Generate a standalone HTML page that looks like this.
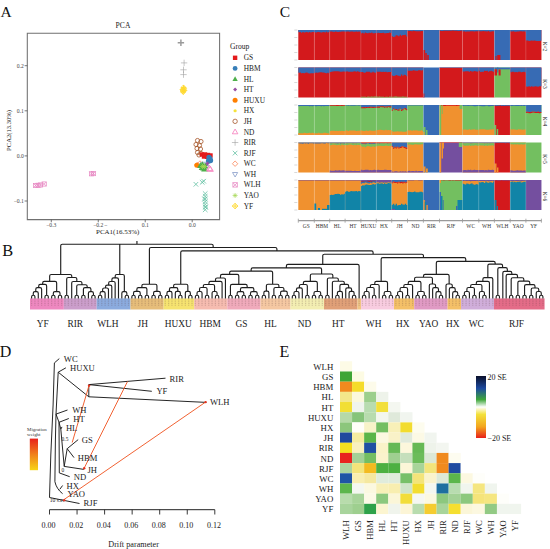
<!DOCTYPE html><html><head><meta charset="utf-8"><style>html,body{margin:0;padding:0;background:#fff;}svg{display:block;font-family:"Liberation Serif", serif;}</style></head><body><svg width="550" height="549" viewBox="0 0 550 549"><text x="0.5" y="16.6" font-size="15.5" fill="#111">A</text>
<text x="123" y="28" font-size="7.6" text-anchor="middle" fill="#222">PCA</text>
<path d="M27.3 33.3 H219.6 V219.6 H27.3 Z" fill="none" stroke="#707070" stroke-width="1.05"/>
<line x1="24.6" x2="27.3" y1="65.7" y2="65.7" stroke="#555" stroke-width="0.8"/>
<text x="23.8" y="67.6" font-size="5.6" text-anchor="end" fill="#444">0.2</text>
<line x1="24.6" x2="27.3" y1="110.8" y2="110.8" stroke="#555" stroke-width="0.8"/>
<text x="23.8" y="112.7" font-size="5.6" text-anchor="end" fill="#444">0.1</text>
<line x1="24.6" x2="27.3" y1="155.9" y2="155.9" stroke="#555" stroke-width="0.8"/>
<text x="23.8" y="157.8" font-size="5.6" text-anchor="end" fill="#444">0.0</text>
<line x1="24.6" x2="27.3" y1="201" y2="201" stroke="#555" stroke-width="0.8"/>
<text x="23.8" y="202.9" font-size="5.6" text-anchor="end" fill="#444">−0.1</text>
<line x1="51.29" x2="51.29" y1="219.6" y2="222.3" stroke="#555" stroke-width="0.8"/>
<text x="51.29" y="227.4" font-size="5.6" text-anchor="middle" fill="#444">−0.3</text>
<line x1="98.26" x2="98.26" y1="219.6" y2="222.3" stroke="#555" stroke-width="0.8"/>
<text x="98.26" y="227.4" font-size="5.6" text-anchor="middle" fill="#444">−0.2</text>
<line x1="145.23" x2="145.23" y1="219.6" y2="222.3" stroke="#555" stroke-width="0.8"/>
<text x="145.23" y="227.4" font-size="5.6" text-anchor="middle" fill="#444">0.1</text>
<line x1="192.2" x2="192.2" y1="219.6" y2="222.3" stroke="#555" stroke-width="0.8"/>
<text x="192.2" y="227.4" font-size="5.6" text-anchor="middle" fill="#444">0.0</text>
<text x="96" y="234" font-size="7" fill="#222">PCA1(16.53%)</text>
<text x="104.6" y="227.2" font-size="5.2" fill="#444">–</text>
<text transform="translate(10.6 130.5) rotate(-90)" font-size="6.6" text-anchor="middle" fill="#222">PCA2(13.30%)</text>
<text x="230" y="48.8" font-size="7.6" fill="#222">Group</text>
<text x="243.7" y="60.4" font-size="7.4" fill="#222">GS</text>
<rect x="232.9" y="55.6" width="4.4" height="4.4" fill="#e41a1c"/>
<text x="243.7" y="70.99" font-size="7.4" fill="#222">HBM</text>
<circle cx="235.1" cy="68.39" r="2.4" fill="#377eb8"/>
<text x="243.7" y="81.58" font-size="7.4" fill="#222">HL</text>
<path d="M235.1 76.18 L237.76 80.94 L232.44 80.94 Z" fill="#4daf4a"/>
<text x="243.7" y="92.17" font-size="7.4" fill="#222">HT</text>
<path d="M235.1 87.57 L237.1 89.57 L235.1 91.57 L233.1 89.57 Z" fill="#984ea3"/>
<text x="243.7" y="102.76" font-size="7.4" fill="#222">HUXU</text>
<circle cx="235.1" cy="100.16" r="2.5" fill="#ff7f00"/>
<text x="243.7" y="113.35" font-size="7.4" fill="#222">HX</text>
<circle cx="235.1" cy="110.75" r="1.6" fill="#f5e23a"/>
<text x="243.7" y="123.94" font-size="7.4" fill="#222">JH</text>
<circle cx="235.1" cy="121.34" r="2.2" fill="none" stroke="#a65628" stroke-width="0.8"/>
<text x="243.7" y="134.53" font-size="7.4" fill="#222">ND</text>
<path d="M235.1 129.03 L237.85 133.81 L232.34 133.81 Z" fill="none" stroke="#f781bf" stroke-width="0.85"/>
<text x="243.7" y="145.12" font-size="7.4" fill="#222">RIR</text>
<path d="M231.9 142.52 H238.3 M235.1 139.32 V145.72" stroke="#a0a0a0" stroke-width="0.6"/>
<text x="243.7" y="155.71" font-size="7.4" fill="#222">RJF</text>
<path d="M232.8 150.81 L237.4 155.41 M232.8 155.41 L237.4 150.81" stroke="#66c2a5" stroke-width="0.8"/>
<text x="243.7" y="166.3" font-size="7.4" fill="#222">WC</text>
<path d="M235.1 161 L237.8 163.7 L235.1 166.4 L232.4 163.7 Z" fill="none" stroke="#fc8d62" stroke-width="0.85"/>
<text x="243.7" y="176.89" font-size="7.4" fill="#222">WH</text>
<path d="M235.1 176.99 L237.66 172.53 L232.53 172.53 Z" fill="none" stroke="#8da0cb" stroke-width="0.85"/>
<text x="243.7" y="187.48" font-size="7.4" fill="#222">WLH</text>
<g stroke="#e78ac3" stroke-width="0.75" fill="none"><rect x="232.9" y="182.68" width="4.4" height="4.4"/><path d="M232.9 182.68 L237.3 187.08 M232.9 187.08 L237.3 182.68"/></g>
<text x="243.7" y="198.07" font-size="7.4" fill="#222">YAO</text>
<path d="M232.6 195.47 H237.6 M235.1 192.97 V197.97 M233.35 193.72 L236.85 197.22 M233.35 197.22 L236.85 193.72" stroke="#a6d854" stroke-width="0.7"/>
<text x="243.7" y="208.66" font-size="7.4" fill="#222">YF</text>
<g stroke="#ffd92f" stroke-width="0.85" fill="none"><path d="M235.1 203.26 L237.9 206.06 L235.1 208.86 L232.3 206.06 Z M232.3 206.06 H237.9 M235.1 203.26 V208.86"/></g>
<path d="M177.7 42.8 H184.1 M180.9 39.6 V46" stroke="#9a9a9a" stroke-width="1.45"/>
<path d="M180.9 62.9 H187.3 M184.1 59.7 V66.1" stroke="#a0a0a0" stroke-width="0.6"/>
<path d="M180.3 69.8 H186.7 M183.5 66.6 V73" stroke="#a0a0a0" stroke-width="0.6"/>
<path d="M180.3 74.6 H186.7 M183.5 71.4 V77.8" stroke="#a0a0a0" stroke-width="0.6"/>
<g stroke="#ffd92f" stroke-width="0.85" fill="none"><path d="M183.5 84.98 L186.02 87.5 L183.5 90.02 L180.98 87.5 Z M180.98 87.5 H186.02 M183.5 84.98 V90.02"/></g>
<g stroke="#ffd92f" stroke-width="0.85" fill="none"><path d="M182.6 86.98 L185.12 89.5 L182.6 92.02 L180.08 89.5 Z M180.08 89.5 H185.12 M182.6 86.98 V92.02"/></g>
<g stroke="#ffd92f" stroke-width="0.85" fill="none"><path d="M184.3 87.98 L186.82 90.5 L184.3 93.02 L181.78 90.5 Z M181.78 90.5 H186.82 M184.3 87.98 V93.02"/></g>
<g stroke="#ffd92f" stroke-width="0.85" fill="none"><path d="M183.2 89.48 L185.72 92 L183.2 94.52 L180.68 92 Z M180.68 92 H185.72 M183.2 89.48 V94.52"/></g>
<g stroke="#ffd92f" stroke-width="0.85" fill="none"><path d="M184 86.28 L186.52 88.8 L184 91.32 L181.48 88.8 Z M181.48 88.8 H186.52 M184 86.28 V91.32"/></g>
<g stroke="#ffd92f" stroke-width="0.85" fill="none"><path d="M182.8 88.48 L185.32 91 L182.8 93.52 L180.28 91 Z M180.28 91 H185.32 M182.8 88.48 V93.52"/></g>
<g stroke="#e78ac3" stroke-width="0.75" fill="none"><rect x="33.41" y="183.41" width="4.18" height="4.18"/><path d="M33.41 183.41 L37.59 187.59 M33.41 187.59 L37.59 183.41"/></g>
<g stroke="#e78ac3" stroke-width="0.75" fill="none"><rect x="35.91" y="183.21" width="4.18" height="4.18"/><path d="M35.91 183.21 L40.09 187.39 M35.91 187.39 L40.09 183.21"/></g>
<g stroke="#e78ac3" stroke-width="0.75" fill="none"><rect x="38.41" y="182.91" width="4.18" height="4.18"/><path d="M38.41 182.91 L42.59 187.09 M38.41 187.09 L42.59 182.91"/></g>
<g stroke="#e78ac3" stroke-width="0.75" fill="none"><rect x="42.11" y="181.91" width="4.18" height="4.18"/><path d="M42.11 181.91 L46.29 186.09 M42.11 186.09 L46.29 181.91"/></g>
<g stroke="#e78ac3" stroke-width="0.75" fill="none"><rect x="89.41" y="171.71" width="4.18" height="4.18"/><path d="M89.41 171.71 L93.59 175.89 M89.41 175.89 L93.59 171.71"/></g>
<g stroke="#e78ac3" stroke-width="0.75" fill="none"><rect x="91.41" y="171.51" width="4.18" height="4.18"/><path d="M91.41 171.51 L95.59 175.69 M91.41 175.69 L95.59 171.51"/></g>
<circle cx="197.5" cy="140.5" r="2.09" fill="none" stroke="#a65628" stroke-width="0.8"/>
<circle cx="201" cy="141.5" r="2.09" fill="none" stroke="#a65628" stroke-width="0.8"/>
<circle cx="196" cy="144.5" r="2.09" fill="none" stroke="#a65628" stroke-width="0.8"/>
<circle cx="199.5" cy="145.5" r="2.09" fill="none" stroke="#a65628" stroke-width="0.8"/>
<circle cx="197" cy="148.5" r="2.09" fill="none" stroke="#a65628" stroke-width="0.8"/>
<circle cx="200.5" cy="149" r="2.09" fill="none" stroke="#a65628" stroke-width="0.8"/>
<circle cx="197.5" cy="152.5" r="2.09" fill="none" stroke="#a65628" stroke-width="0.8"/>
<circle cx="201" cy="153.5" r="2.09" fill="none" stroke="#a65628" stroke-width="0.8"/>
<circle cx="199" cy="155" r="2.09" fill="none" stroke="#a65628" stroke-width="0.8"/>
<rect x="199.8" y="152.3" width="4.4" height="4.4" fill="#e41a1c"/>
<rect x="202.8" y="152.3" width="4.4" height="4.4" fill="#e41a1c"/>
<rect x="205.8" y="152.8" width="4.4" height="4.4" fill="#e41a1c"/>
<rect x="208.3" y="153.3" width="4.4" height="4.4" fill="#e41a1c"/>
<rect x="201.8" y="154.3" width="4.4" height="4.4" fill="#e41a1c"/>
<rect x="204.8" y="154.6" width="4.4" height="4.4" fill="#e41a1c"/>
<circle cx="209" cy="157.5" r="2.64" fill="#377eb8"/>
<circle cx="210" cy="159" r="2.64" fill="#377eb8"/>
<circle cx="208.5" cy="161" r="2.64" fill="#377eb8"/>
<circle cx="210.5" cy="160.5" r="2.64" fill="#377eb8"/>
<path d="M197.5 162.1 L200.2 164.8 L197.5 167.5 L194.8 164.8 Z" fill="none" stroke="#fc8d62" stroke-width="0.85"/>
<path d="M200 160.8 L202.7 163.5 L200 166.2 L197.3 163.5 Z" fill="none" stroke="#fc8d62" stroke-width="0.85"/>
<path d="M203 165.3 L205.7 168 L203 170.7 L200.3 168 Z" fill="none" stroke="#fc8d62" stroke-width="0.85"/>
<circle cx="196.8" cy="165.2" r="2.5" fill="#ff7f00"/>
<path d="M204 166.7 L206.56 162.25 L201.44 162.25 Z" fill="none" stroke="#8da0cb" stroke-width="0.85"/>
<path d="M206.5 169.7 L209.06 165.25 L203.94 165.25 Z" fill="none" stroke="#8da0cb" stroke-width="0.85"/>
<path d="M207.5 161.5 L209.5 163.5 L207.5 165.5 L205.5 163.5 Z" fill="#984ea3"/>
<path d="M206 163 L208 165 L206 167 L204 165 Z" fill="#984ea3"/>
<path d="M200.5 162 L203.82 167.95 L197.18 167.95 Z" fill="#4daf4a"/>
<path d="M203.5 164.5 L206.82 170.45 L200.18 170.45 Z" fill="#4daf4a"/>
<path d="M202 164 L205.32 169.95 L198.68 169.95 Z" fill="#4daf4a"/>
<path d="M205 162.5 L208.32 168.45 L201.68 168.45 Z" fill="#4daf4a"/>
<path d="M202.5 161.3 L205.82 167.25 L199.18 167.25 Z" fill="#4daf4a"/>
<path d="M204.5 165.5 L207.82 171.45 L201.18 171.45 Z" fill="#4daf4a"/>
<path d="M200 166.5 H205 M202.5 164 V169 M200.75 164.75 L204.25 168.25 M200.75 168.25 L204.25 164.75" stroke="#a6d854" stroke-width="0.7"/>
<path d="M202 166.5 H207 M204.5 164 V169 M202.75 164.75 L206.25 168.25 M202.75 168.25 L206.25 164.75" stroke="#a6d854" stroke-width="0.7"/>
<path d="M210.3 166.11 L213.33 171.37 L207.27 171.37 Z" fill="none" stroke="#f781bf" stroke-width="0.85"/>
<path d="M209.5 165.31 L212.53 170.57 L206.47 170.57 Z" fill="none" stroke="#f781bf" stroke-width="0.85"/>
<path d="M193.6 182 L198.2 186.6 M193.6 186.6 L198.2 182" stroke="#66c2a5" stroke-width="0.8"/>
<path d="M201.4 178.9 L206 183.5 M201.4 183.5 L206 178.9" stroke="#66c2a5" stroke-width="0.8"/>
<path d="M199.9 180 L204.5 184.6 M199.9 184.6 L204.5 180" stroke="#66c2a5" stroke-width="0.8"/>
<path d="M202.9 191.3 L207.5 195.9 M202.9 195.9 L207.5 191.3" stroke="#66c2a5" stroke-width="0.8"/>
<path d="M202.9 194 L207.5 198.6 M202.9 198.6 L207.5 194" stroke="#66c2a5" stroke-width="0.8"/>
<path d="M202.9 196.7 L207.5 201.3 M202.9 201.3 L207.5 196.7" stroke="#66c2a5" stroke-width="0.8"/>
<path d="M202.9 199.4 L207.5 204 M202.9 204 L207.5 199.4" stroke="#66c2a5" stroke-width="0.8"/>
<path d="M202.9 202.1 L207.5 206.7 M202.9 206.7 L207.5 202.1" stroke="#66c2a5" stroke-width="0.8"/>
<path d="M202.9 204.8 L207.5 209.4 M202.9 209.4 L207.5 204.8" stroke="#66c2a5" stroke-width="0.8"/>
<path d="M202.9 207.5 L207.5 212.1 M202.9 212.1 L207.5 207.5" stroke="#66c2a5" stroke-width="0.8"/>
<path d="M202.2 196.7 L206.8 201.3 M202.2 201.3 L206.8 196.7" stroke="#66c2a5" stroke-width="0.8"/>
<path d="M203.5 204.7 L208.1 209.3 M203.5 209.3 L208.1 204.7" stroke="#66c2a5" stroke-width="0.8"/>
<text x="279.8" y="17.1" font-size="15.5" fill="#111">C</text>
<line x1="294.3" x2="297.3" y1="30" y2="30" stroke="#c8c8c8" stroke-width="0.7"/>
<line x1="294.3" x2="297.3" y1="37.5" y2="37.5" stroke="#c8c8c8" stroke-width="0.7"/>
<line x1="294.3" x2="297.3" y1="45" y2="45" stroke="#c8c8c8" stroke-width="0.7"/>
<line x1="294.3" x2="297.3" y1="52.5" y2="52.5" stroke="#c8c8c8" stroke-width="0.7"/>
<line x1="294.3" x2="297.3" y1="60" y2="60" stroke="#c8c8c8" stroke-width="0.7"/>
<rect x="298.3" y="30" width="16.05" height="30" fill="#d3191c"/>
<path d="M298.3 30H299.63V30H300.97V30H302.3V30H303.63V30H304.97V30H306.3V30H307.63V30H308.97V30H310.3V30H311.63V30H312.97V30H314.3V32.01H312.97V31.98H311.63V32.42H310.3V31.94H308.97V32.51H307.63V31.97H306.3V32.34H304.97V32.54H303.63V31.99H302.3V32.68H300.97V32.08H299.63V32.29H298.3Z" fill="#376bb4"/>
<rect x="314.3" y="30" width="15.45" height="30" fill="#d3191c"/>
<path d="M314.3 30H315.58V30H316.87V30H318.15V30H319.43V30H320.72V30H322V30H323.28V30H324.57V30H325.85V30H327.13V30H328.42V30H329.7V32.03H328.42V32.49H327.13V31.84H325.85V32.58H324.57V32.12H323.28V32.26H322V32.56H320.72V32.3H319.43V31.98H318.15V31.9H316.87V32.46H315.58V32.14H314.3Z" fill="#376bb4"/>
<rect x="329.7" y="30" width="15.45" height="30" fill="#d3191c"/>
<path d="M329.7 30H330.98V30H332.27V30H333.55V30H334.83V30H336.12V30H337.4V30H338.68V30H339.97V30H341.25V30H342.53V30H343.82V30H345.1V31.56H343.82V31.45H342.53V31.45H341.25V31.84H339.97V31.7H338.68V31.91H337.4V31.87H336.12V31.54H334.83V32.05H333.55V31.65H332.27V31.49H330.98V31.52H329.7Z" fill="#376bb4"/>
<rect x="345.1" y="30" width="15.85" height="30" fill="#d3191c"/>
<path d="M345.1 30H346.42V30H347.73V30H349.05V30H350.37V30H351.68V30H353V30H354.32V30H355.63V30H356.95V30H358.27V30H359.58V30H360.9V31.83H359.58V31.62H358.27V31.64H356.95V31.45H355.63V31.72H354.32V31.78H353V31.48H351.68V31.57H350.37V31.65H349.05V31.49H347.73V31.56H346.42V31.71H345.1Z" fill="#376bb4"/>
<rect x="360.9" y="30" width="15.45" height="30" fill="#d3191c"/>
<path d="M360.9 30H362.18V30H363.47V30H364.75V30H366.03V30H367.32V30H368.6V30H369.88V30H371.17V30H372.45V30H373.73V30H375.02V30H376.3V33.07H375.02V33.26H373.73V33.17H372.45V32.54H371.17V32.99H369.88V32.65H368.6V33.26H367.32V32.92H366.03V32.62H364.75V33.48H363.47V32.79H362.18V33.23H360.9Z" fill="#376bb4"/>
<rect x="376.3" y="30" width="15.45" height="30" fill="#d3191c"/>
<path d="M376.3 30H377.58V30H378.87V30H380.15V30H381.43V30H382.72V30H384V30H385.28V30H386.57V30H387.85V30H389.13V30H390.42V30H391.7V33.06H390.42V32.55H389.13V33.03H387.85V32.88H386.57V33.26H385.28V33.17H384V32.86H382.72V32.96H381.43V32.98H380.15V33.06H378.87V32.75H377.58V33.2H376.3Z" fill="#376bb4"/>
<rect x="391.7" y="30" width="15.85" height="30" fill="#d3191c"/>
<path d="M391.7 30H393.02V30H394.33V30H395.65V30H396.97V30H398.28V30H399.6V30H400.92V30H402.23V30H403.55V30H404.87V30H406.18V30H407.5V36.44H406.18V34.74H404.87V34.88H403.55V35H402.23V35.71H400.92V34.65H399.6V36.2H398.28V35.53H396.97V35.28H395.65V36.57H394.33V36.98H393.02V36.15H391.7Z" fill="#376bb4"/>
<rect x="407.5" y="30" width="15.95" height="30" fill="#d3191c"/>
<path d="M407.5 30H408.82V30H410.15V30H411.48V30H412.8V30H414.12V30H415.45V30H416.77V30H418.1V30H419.42V30H420.75V30H422.07V30H423.4V31.05H422.07V30.97H420.75V31.32H419.42V31.29H418.1V31.33H416.77V31.13H415.45V31.07H414.12V30.85H412.8V31.32H411.48V31.03H410.15V30.95H408.82V30.88H407.5Z" fill="#376bb4"/>
<rect x="423.4" y="30" width="16.15" height="30" fill="#376bb4"/>
<rect x="423.4" y="50" width="1.8" height="10" fill="#d3191c"/>
<rect x="425.2" y="53" width="1.6" height="7" fill="#d3191c"/>
<rect x="427.2" y="55" width="1.6" height="5" fill="#d3191c"/>
<rect x="439.5" y="30" width="23.05" height="30" fill="#d3191c"/>
<path d="M439.5 30H440.78V30H442.06V30H443.33V30H444.61V30H445.89V30H447.17V30H448.44V30H449.72V30H451V30H452.28V30H453.56V30H454.83V30H456.11V30H457.39V30H458.67V30H459.94V30H461.22V30H462.5V30.85H461.22V30.81H459.94V30.88H458.67V30.98H457.39V30.83H456.11V30.75H454.83V30.77H453.56V30.6H452.28V30.71H451V30.84H449.72V30.79H448.44V30.69H447.17V30.69H445.89V30.67H444.61V30.66H443.33V30.98H442.06V30.95H440.78V30.74H439.5Z" fill="#376bb4"/>
<rect x="462.5" y="30" width="16.35" height="30" fill="#d3191c"/>
<path d="M462.5 30H463.75V30H465.01V30H466.26V30H467.52V30H468.77V30H470.02V30H471.28V30H472.53V30H473.78V30H475.04V30H476.29V30H477.55V30H478.8V31.23H477.55V31.14H476.29V31.14H475.04V31.48H473.78V31.16H472.53V31.34H471.28V31.34H470.02V31.58H468.77V31.62H467.52V31.57H466.26V31.64H465.01V31.13H463.75V31.51H462.5Z" fill="#376bb4"/>
<rect x="478.8" y="30" width="15.65" height="30" fill="#d3191c"/>
<path d="M478.8 30H480.1V30H481.4V30H482.7V30H484V30H485.3V30H486.6V30H487.9V30H489.2V30H490.5V30H491.8V30H493.1V30H494.4V31.3H493.1V31.22H491.8V31.59H490.5V31.8H489.2V31.12H487.9V31.39H486.6V31.18H485.3V31.22H484V31.1H482.7V31.14H481.4V31.37H480.1V31.23H478.8Z" fill="#376bb4"/>
<rect x="494.4" y="30" width="15.85" height="30" fill="#376bb4"/>
<rect x="495.4" y="56" width="1.2" height="4" fill="#d3191c"/>
<rect x="497.2" y="55" width="3.2" height="5" fill="#d3191c"/>
<rect x="510.2" y="30" width="15.75" height="30" fill="#d3191c"/>
<path d="M510.2 30H511.51V30H512.82V30H514.12V30H515.43V30H516.74V30H518.05V30H519.36V30H520.67V30H521.98V30H523.28V30H524.59V30H525.9V31.7H524.59V31.36H523.28V31.41H521.98V31.26H520.67V31.25H519.36V31.49H518.05V31.48H516.74V31.8H515.43V31.71H514.12V31.27H512.82V31.42H511.51V31.41H510.2Z" fill="#376bb4"/>
<rect x="525.9" y="30" width="15.55" height="30" fill="#d3191c"/>
<path d="M525.9 30H527.19V30H528.48V30H529.77V30H531.07V30H532.36V30H533.65V30H534.94V30H536.23V30H537.52V30H538.82V30H540.11V30H541.4V40.66H540.11V40.92H538.82V41.02H537.52V41.09H536.23V40.82H534.94V40.52H533.65V40.83H532.36V40.59H531.07V40.82H529.77V41.07H528.48V40.51H527.19V40.6H525.9Z" fill="#376bb4"/>
<line x1="314.3" x2="314.3" y1="30" y2="60" stroke="#ffffff" stroke-opacity="0.25" stroke-width="0.6"/>
<line x1="329.7" x2="329.7" y1="30" y2="60" stroke="#ffffff" stroke-opacity="0.25" stroke-width="0.6"/>
<line x1="345.1" x2="345.1" y1="30" y2="60" stroke="#ffffff" stroke-opacity="0.25" stroke-width="0.6"/>
<line x1="360.9" x2="360.9" y1="30" y2="60" stroke="#ffffff" stroke-opacity="0.25" stroke-width="0.6"/>
<line x1="376.3" x2="376.3" y1="30" y2="60" stroke="#ffffff" stroke-opacity="0.25" stroke-width="0.6"/>
<line x1="391.7" x2="391.7" y1="30" y2="60" stroke="#ffffff" stroke-opacity="0.25" stroke-width="0.6"/>
<line x1="407.5" x2="407.5" y1="30" y2="60" stroke="#ffffff" stroke-opacity="0.25" stroke-width="0.6"/>
<line x1="423.4" x2="423.4" y1="30" y2="60" stroke="#ffffff" stroke-opacity="0.25" stroke-width="0.6"/>
<line x1="439.5" x2="439.5" y1="30" y2="60" stroke="#ffffff" stroke-opacity="0.25" stroke-width="0.6"/>
<line x1="462.5" x2="462.5" y1="30" y2="60" stroke="#ffffff" stroke-opacity="0.25" stroke-width="0.6"/>
<line x1="478.8" x2="478.8" y1="30" y2="60" stroke="#ffffff" stroke-opacity="0.25" stroke-width="0.6"/>
<line x1="494.4" x2="494.4" y1="30" y2="60" stroke="#ffffff" stroke-opacity="0.25" stroke-width="0.6"/>
<line x1="510.2" x2="510.2" y1="30" y2="60" stroke="#ffffff" stroke-opacity="0.25" stroke-width="0.6"/>
<line x1="525.9" x2="525.9" y1="30" y2="60" stroke="#ffffff" stroke-opacity="0.25" stroke-width="0.6"/>
<text transform="translate(543.3 46.5) rotate(90)" font-size="5.4" text-anchor="middle" fill="#222">K=2</text>
<line x1="294.3" x2="297.3" y1="67.5" y2="67.5" stroke="#c8c8c8" stroke-width="0.7"/>
<line x1="294.3" x2="297.3" y1="75" y2="75" stroke="#c8c8c8" stroke-width="0.7"/>
<line x1="294.3" x2="297.3" y1="82.5" y2="82.5" stroke="#c8c8c8" stroke-width="0.7"/>
<line x1="294.3" x2="297.3" y1="90" y2="90" stroke="#c8c8c8" stroke-width="0.7"/>
<line x1="294.3" x2="297.3" y1="97.5" y2="97.5" stroke="#c8c8c8" stroke-width="0.7"/>
<rect x="298.3" y="67.5" width="16.05" height="30" fill="#d3191c"/>
<path d="M298.3 67.5H299.63V67.5H300.97V67.5H302.3V67.5H303.63V67.5H304.97V67.5H306.3V67.5H307.63V67.5H308.97V67.5H310.3V67.5H311.63V67.5H312.97V67.5H314.3V73.22H312.97V73.21H311.63V73.25H310.3V73.38H308.97V73.21H307.63V72.62H306.3V72.73H304.97V73.18H303.63V72.93H302.3V73.17H300.97V72.57H299.63V72.77H298.3Z" fill="#376bb4"/>
<rect x="314.3" y="67.5" width="15.45" height="30" fill="#d3191c"/>
<path d="M314.3 67.5H315.58V67.5H316.87V67.5H318.15V67.5H319.43V67.5H320.72V67.5H322V67.5H323.28V67.5H324.57V67.5H325.85V67.5H327.13V67.5H328.42V67.5H329.7V73.14H328.42V72.65H327.13V73.16H325.85V72.89H324.57V72.46H323.28V72.48H322V72.23H320.72V72.23H319.43V72.56H318.15V72.72H316.87V72.43H315.58V72.94H314.3Z" fill="#376bb4"/>
<rect x="329.7" y="67.5" width="15.45" height="30" fill="#d3191c"/>
<path d="M329.7 67.5H330.98V67.5H332.27V67.5H333.55V67.5H334.83V67.5H336.12V67.5H337.4V67.5H338.68V67.5H339.97V67.5H341.25V67.5H342.53V67.5H343.82V67.5H345.1V71.62H343.82V71.48H342.53V71.77H341.25V71.82H339.97V71.6H338.68V71.26H337.4V71.26H336.12V71.28H334.83V71.28H333.55V71.39H332.27V71.86H330.98V71.89H329.7Z" fill="#376bb4"/>
<rect x="345.1" y="67.5" width="15.85" height="30" fill="#d3191c"/>
<path d="M345.1 67.5H346.42V67.5H347.73V67.5H349.05V67.5H350.37V67.5H351.68V67.5H353V67.5H354.32V67.5H355.63V67.5H356.95V67.5H358.27V67.5H359.58V67.5H360.9V71.88H359.58V71.74H358.27V71.37H356.95V71.73H355.63V71.24H354.32V71.48H353V71.7H351.68V71.73H350.37V71.83H349.05V71.63H347.73V71.17H346.42V71.74H345.1Z" fill="#376bb4"/>
<rect x="360.9" y="67.5" width="15.45" height="30" fill="#d3191c"/>
<path d="M360.9 67.5H362.18V67.5H363.47V67.5H364.75V67.5H366.03V67.5H367.32V67.5H368.6V67.5H369.88V67.5H371.17V67.5H372.45V67.5H373.73V67.5H375.02V67.5H376.3V72.68H375.02V72.53H373.73V71.85H372.45V72.51H371.17V72.6H369.88V71.85H368.6V71.83H367.32V71.87H366.03V72.42H364.75V72.65H363.47V72.1H362.18V72.1H360.9Z" fill="#376bb4"/>
<path d="M360.9 96.64H362.18V96.76H363.47V96.68H364.75V96.85H366.03V96.89H367.32V96.51H368.6V96.64H369.88V96.69H371.17V96.53H372.45V96.73H373.73V96.55H375.02V96.57H376.3V97.5H375.02V97.5H373.73V97.5H372.45V97.5H371.17V97.5H369.88V97.5H368.6V97.5H367.32V97.5H366.03V97.5H364.75V97.5H363.47V97.5H362.18V97.5H360.9Z" fill="#73bf60"/>
<rect x="376.3" y="67.5" width="15.45" height="30" fill="#d3191c"/>
<path d="M376.3 67.5H377.58V67.5H378.87V67.5H380.15V67.5H381.43V67.5H382.72V67.5H384V67.5H385.28V67.5H386.57V67.5H387.85V67.5H389.13V67.5H390.42V67.5H391.7V72.07H390.42V71.97H389.13V71.88H387.85V72.33H386.57V71.7H385.28V71.94H384V71.81H382.72V72.07H381.43V71.79H380.15V71.83H378.87V71.8H377.58V71.77H376.3Z" fill="#376bb4"/>
<path d="M376.3 96.54H377.58V96.73H378.87V96.53H380.15V96.7H381.43V96.69H382.72V96.69H384V96.89H385.28V96.72H386.57V96.83H387.85V96.9H389.13V96.58H390.42V96.83H391.7V97.5H390.42V97.5H389.13V97.5H387.85V97.5H386.57V97.5H385.28V97.5H384V97.5H382.72V97.5H381.43V97.5H380.15V97.5H378.87V97.5H377.58V97.5H376.3Z" fill="#73bf60"/>
<rect x="391.7" y="67.5" width="15.85" height="30" fill="#d3191c"/>
<path d="M391.7 67.5H393.02V67.5H394.33V67.5H395.65V67.5H396.97V67.5H398.28V67.5H399.6V67.5H400.92V67.5H402.23V67.5H403.55V67.5H404.87V67.5H406.18V67.5H407.5V76.21H406.18V74.92H404.87V74.85H403.55V75.66H402.23V74.48H400.92V76.24H399.6V75.64H398.28V75.55H396.97V75.05H395.65V75.65H394.33V76.09H393.02V75.43H391.7Z" fill="#376bb4"/>
<path d="M391.7 96.7H393.02V96.66H394.33V96.54H395.65V96.45H396.97V96.73H398.28V96.63H399.6V96.7H400.92V96.69H402.23V96.58H403.55V96.73H404.87V96.68H406.18V96.71H407.5V97.5H406.18V97.5H404.87V97.5H403.55V97.5H402.23V97.5H400.92V97.5H399.6V97.5H398.28V97.5H396.97V97.5H395.65V97.5H394.33V97.5H393.02V97.5H391.7Z" fill="#73bf60"/>
<rect x="407.5" y="67.5" width="15.95" height="30" fill="#d3191c"/>
<path d="M407.5 67.5H408.82V67.5H410.15V67.5H411.48V67.5H412.8V67.5H414.12V67.5H415.45V67.5H416.77V67.5H418.1V67.5H419.42V67.5H420.75V67.5H422.07V67.5H423.4V70.16H422.07V70.45H420.75V70.2H419.42V70.21H418.1V70.77H416.77V70.85H415.45V70.55H414.12V70.31H412.8V70.85H411.48V70.8H410.15V70.66H408.82V70.85H407.5Z" fill="#376bb4"/>
<rect x="423.4" y="67.5" width="16.15" height="30" fill="#376bb4"/>
<rect x="423.4" y="93.5" width="1" height="4" fill="#d3191c"/>
<rect x="439.5" y="67.5" width="23.05" height="30" fill="#d3191c"/>
<path d="M439.5 67.5H440.78V67.5H442.06V67.5H443.33V67.5H444.61V67.5H445.89V67.5H447.17V67.5H448.44V67.5H449.72V67.5H451V67.5H452.28V67.5H453.56V67.5H454.83V67.5H456.11V67.5H457.39V67.5H458.67V67.5H459.94V67.5H461.22V67.5H462.5V67.93H461.22V68.07H459.94V68.1H458.67V68H457.39V67.98H456.11V68.09H454.83V67.94H453.56V68.09H452.28V68.08H451V67.93H449.72V68.03H448.44V68.04H447.17V67.93H445.89V68.08H444.61V68.06H443.33V68.03H442.06V67.91H440.78V67.95H439.5Z" fill="#376bb4"/>
<rect x="462.5" y="67.5" width="16.35" height="30" fill="#d3191c"/>
<path d="M462.5 67.5H463.75V67.5H465.01V67.5H466.26V67.5H467.52V67.5H468.77V67.5H470.02V67.5H471.28V67.5H472.53V67.5H473.78V67.5H475.04V67.5H476.29V67.5H477.55V67.5H478.8V71.51H477.55V71.6H476.29V71.37H475.04V71.11H473.78V71.45H472.53V71.54H471.28V71.12H470.02V71.68H468.77V71.35H467.52V71.26H466.26V71.37H465.01V71.51H463.75V71.45H462.5Z" fill="#376bb4"/>
<rect x="478.8" y="67.5" width="15.65" height="30" fill="#d3191c"/>
<path d="M478.8 67.5H480.1V67.5H481.4V67.5H482.7V67.5H484V67.5H485.3V67.5H486.6V67.5H487.9V67.5H489.2V67.5H490.5V67.5H491.8V67.5H493.1V67.5H494.4V71.79H493.1V71.21H491.8V70.86H490.5V71.02H489.2V71.63H487.9V70.75H486.6V71.02H485.3V70.83H484V71.87H482.7V71.65H481.4V71.88H480.1V70.78H478.8Z" fill="#376bb4"/>
<rect x="494.4" y="67.5" width="15.85" height="30" fill="#73bf60"/>
<rect x="494.4" y="67.5" width="15.8" height="1.8" fill="#376bb4"/>
<rect x="494.4" y="69.3" width="2.6" height="6.2" fill="#d3191c"/>
<rect x="497.2" y="67.5" width="1" height="5" fill="#376bb4"/>
<rect x="498.6" y="69.5" width="2" height="6" fill="#d3191c"/>
<rect x="510.2" y="67.5" width="15.75" height="30" fill="#d3191c"/>
<path d="M510.2 67.5H511.51V67.5H512.82V67.5H514.12V67.5H515.43V67.5H516.74V67.5H518.05V67.5H519.36V67.5H520.67V67.5H521.98V67.5H523.28V67.5H524.59V67.5H525.9V72.35H524.59V71.66H523.28V71.94H521.98V72.15H520.67V71.65H519.36V71.67H518.05V72.16H516.74V72.06H515.43V72.34H514.12V71.72H512.82V71.81H511.51V72.26H510.2Z" fill="#376bb4"/>
<rect x="525.9" y="67.5" width="15.55" height="30" fill="#d3191c"/>
<path d="M525.9 67.5H527.19V67.5H528.48V67.5H529.77V67.5H531.07V67.5H532.36V67.5H533.65V67.5H534.94V67.5H536.23V67.5H537.52V67.5H538.82V67.5H540.11V67.5H541.4V86.2H540.11V86.31H538.82V86.84H537.52V86.54H536.23V86.37H534.94V86.46H533.65V86.79H532.36V86.15H531.07V86.78H529.77V86.17H528.48V86.74H527.19V86.61H525.9Z" fill="#376bb4"/>
<line x1="314.3" x2="314.3" y1="67.5" y2="97.5" stroke="#ffffff" stroke-opacity="0.25" stroke-width="0.6"/>
<line x1="329.7" x2="329.7" y1="67.5" y2="97.5" stroke="#ffffff" stroke-opacity="0.25" stroke-width="0.6"/>
<line x1="345.1" x2="345.1" y1="67.5" y2="97.5" stroke="#ffffff" stroke-opacity="0.25" stroke-width="0.6"/>
<line x1="360.9" x2="360.9" y1="67.5" y2="97.5" stroke="#ffffff" stroke-opacity="0.25" stroke-width="0.6"/>
<line x1="376.3" x2="376.3" y1="67.5" y2="97.5" stroke="#ffffff" stroke-opacity="0.25" stroke-width="0.6"/>
<line x1="391.7" x2="391.7" y1="67.5" y2="97.5" stroke="#ffffff" stroke-opacity="0.25" stroke-width="0.6"/>
<line x1="407.5" x2="407.5" y1="67.5" y2="97.5" stroke="#ffffff" stroke-opacity="0.25" stroke-width="0.6"/>
<line x1="423.4" x2="423.4" y1="67.5" y2="97.5" stroke="#ffffff" stroke-opacity="0.25" stroke-width="0.6"/>
<line x1="439.5" x2="439.5" y1="67.5" y2="97.5" stroke="#ffffff" stroke-opacity="0.25" stroke-width="0.6"/>
<line x1="462.5" x2="462.5" y1="67.5" y2="97.5" stroke="#ffffff" stroke-opacity="0.25" stroke-width="0.6"/>
<line x1="478.8" x2="478.8" y1="67.5" y2="97.5" stroke="#ffffff" stroke-opacity="0.25" stroke-width="0.6"/>
<line x1="494.4" x2="494.4" y1="67.5" y2="97.5" stroke="#ffffff" stroke-opacity="0.25" stroke-width="0.6"/>
<line x1="510.2" x2="510.2" y1="67.5" y2="97.5" stroke="#ffffff" stroke-opacity="0.25" stroke-width="0.6"/>
<line x1="525.9" x2="525.9" y1="67.5" y2="97.5" stroke="#ffffff" stroke-opacity="0.25" stroke-width="0.6"/>
<text transform="translate(543.3 84) rotate(90)" font-size="5.4" text-anchor="middle" fill="#222">K=3</text>
<line x1="294.3" x2="297.3" y1="105" y2="105" stroke="#c8c8c8" stroke-width="0.7"/>
<line x1="294.3" x2="297.3" y1="112.5" y2="112.5" stroke="#c8c8c8" stroke-width="0.7"/>
<line x1="294.3" x2="297.3" y1="120" y2="120" stroke="#c8c8c8" stroke-width="0.7"/>
<line x1="294.3" x2="297.3" y1="127.5" y2="127.5" stroke="#c8c8c8" stroke-width="0.7"/>
<line x1="294.3" x2="297.3" y1="135" y2="135" stroke="#c8c8c8" stroke-width="0.7"/>
<rect x="298.3" y="105" width="16.05" height="30" fill="#73bf60"/>
<path d="M298.3 105H299.63V105H300.97V105H302.3V105H303.63V105H304.97V105H306.3V105H307.63V105H308.97V105H310.3V105H311.63V105H312.97V105H314.3V106.01H312.97V106.2H311.63V106.07H310.3V106.36H308.97V106.08H307.63V106.09H306.3V106.02H304.97V105.93H303.63V106H302.3V105.97H300.97V106.04H299.63V106.22H298.3Z" fill="#376bb4"/>
<path d="M298.3 133.09H299.63V133.29H300.97V133.15H302.3V133.29H303.63V132.86H304.97V132.97H306.3V133.19H307.63V133.02H308.97V132.74H310.3V133.24H311.63V132.81H312.97V133.04H314.3V135H312.97V135H311.63V135H310.3V135H308.97V135H307.63V135H306.3V135H304.97V135H303.63V135H302.3V135H300.97V135H299.63V135H298.3Z" fill="#f0912f"/>
<rect x="314.3" y="105" width="15.45" height="30" fill="#73bf60"/>
<path d="M314.3 105H315.58V105H316.87V105H318.15V105H319.43V105H320.72V105H322V105H323.28V105H324.57V105H325.85V105H327.13V105H328.42V105H329.7V105.91H328.42V105.94H327.13V106.08H325.85V106.12H324.57V106.2H323.28V105.91H322V106.29H320.72V106.11H319.43V106H318.15V105.94H316.87V106.2H315.58V106H314.3Z" fill="#376bb4"/>
<path d="M314.3 133.27H315.58V133.22H316.87V133.26H318.15V132.86H319.43V133.15H320.72V133.2H322V133.25H323.28V132.8H324.57V132.78H325.85V132.9H327.13V133.13H328.42V133.15H329.7V135H328.42V135H327.13V135H325.85V135H324.57V135H323.28V135H322V135H320.72V135H319.43V135H318.15V135H316.87V135H315.58V135H314.3Z" fill="#f0912f"/>
<rect x="329.7" y="105" width="15.45" height="30" fill="#73bf60"/>
<path d="M329.7 105H330.98V105H332.27V105H333.55V105H334.83V105H336.12V105H337.4V105H338.68V105H339.97V105H341.25V105H342.53V105H343.82V105H345.1V105.74H343.82V105.72H342.53V105.99H341.25V105.7H339.97V105.82H338.68V105.99H337.4V105.98H336.12V105.71H334.83V105.78H333.55V105.66H332.27V105.78H330.98V105.72H329.7Z" fill="#d3191c"/>
<path d="M329.7 131H330.98V130.77H332.27V130.72H333.55V130.7H334.83V130.88H336.12V130.7H337.4V131H338.68V130.84H339.97V130.95H341.25V130.76H342.53V130.97H343.82V130.99H345.1V135H343.82V135H342.53V135H341.25V135H339.97V135H338.68V135H337.4V135H336.12V135H334.83V135H333.55V135H332.27V135H330.98V135H329.7Z" fill="#f0912f"/>
<rect x="345.1" y="105" width="15.85" height="30" fill="#73bf60"/>
<path d="M345.1 105H346.42V105H347.73V105H349.05V105H350.37V105H351.68V105H353V105H354.32V105H355.63V105H356.95V105H358.27V105H359.58V105H360.9V105.46H359.58V105.79H358.27V105.53H356.95V105.56H355.63V105.75H354.32V105.69H353V105.66H351.68V105.7H350.37V105.61H349.05V105.63H347.73V105.49H346.42V105.52H345.1Z" fill="#376bb4"/>
<path d="M345.1 130.57H346.42V130.61H347.73V130.97H349.05V130.5H350.37V130.46H351.68V130.62H353V130.56H354.32V130.51H355.63V130.92H356.95V130.69H358.27V130.7H359.58V130.5H360.9V135H359.58V135H358.27V135H356.95V135H355.63V135H354.32V135H353V135H351.68V135H350.37V135H349.05V135H347.73V135H346.42V135H345.1Z" fill="#f0912f"/>
<rect x="360.9" y="105" width="15.45" height="30" fill="#73bf60"/>
<path d="M360.9 105H362.18V105H363.47V105H364.75V105H366.03V105H367.32V105H368.6V105H369.88V105H371.17V105H372.45V105H373.73V105H375.02V105H376.3V107.2H375.02V106.76H373.73V106.92H372.45V106.78H371.17V106.72H369.88V106.84H368.6V107.12H367.32V107.11H366.03V107.24H364.75V107.05H363.47V107.2H362.18V107.18H360.9Z" fill="#376bb4"/>
<path d="M360.9 107.18H362.18V107.2H363.47V107.05H364.75V107.24H366.03V107.11H367.32V107.12H368.6V106.84H369.88V106.72H371.17V106.78H372.45V106.92H373.73V106.76H375.02V107.2H376.3V107.94H375.02V107.86H373.73V107.94H372.45V107.78H371.17V107.87H369.88V108.02H368.6V107.82H367.32V108.1H366.03V108.34H364.75V108.13H363.47V108.27H362.18V108.22H360.9Z" fill="#d3191c"/>
<path d="M360.9 130.56H362.18V130.85H363.47V130.96H364.75V130.84H366.03V130.56H367.32V130.88H368.6V130.56H369.88V130.41H371.17V130.7H372.45V130.77H373.73V130.71H375.02V130.59H376.3V135H375.02V135H373.73V135H372.45V135H371.17V135H369.88V135H368.6V135H367.32V135H366.03V135H364.75V135H363.47V135H362.18V135H360.9Z" fill="#f0912f"/>
<rect x="376.3" y="105" width="15.45" height="30" fill="#73bf60"/>
<path d="M376.3 105H377.58V105H378.87V105H380.15V105H381.43V105H382.72V105H384V105H385.28V105H386.57V105H387.85V105H389.13V105H390.42V105H391.7V106.36H390.42V106.24H389.13V106.21H387.85V106.54H386.57V106.38H385.28V106.65H384V106.35H382.72V106.29H381.43V106.25H380.15V106.59H378.87V106.57H377.58V106.66H376.3Z" fill="#376bb4"/>
<path d="M376.3 106.66H377.58V106.57H378.87V106.59H380.15V106.25H381.43V106.29H382.72V106.35H384V106.65H385.28V106.38H386.57V106.54H387.85V106.21H389.13V106.24H390.42V106.36H391.7V107.62H390.42V107.52H389.13V107.03H387.85V107.78H386.57V107.15H385.28V107.63H384V107.33H382.72V107.3H381.43V107.12H380.15V107.69H378.87V107.69H377.58V107.76H376.3Z" fill="#d3191c"/>
<path d="M376.3 130.29H377.58V130.02H378.87V129.81H380.15V129.72H381.43V130.03H382.72V130.14H384V130.17H385.28V129.73H386.57V130.17H387.85V129.95H389.13V130.21H390.42V129.99H391.7V135H390.42V135H389.13V135H387.85V135H386.57V135H385.28V135H384V135H382.72V135H381.43V135H380.15V135H378.87V135H377.58V135H376.3Z" fill="#f0912f"/>
<rect x="391.7" y="105" width="15.85" height="30" fill="#73bf60"/>
<path d="M391.7 105H393.02V105H394.33V105H395.65V105H396.97V105H398.28V105H399.6V105H400.92V105H402.23V105H403.55V105H404.87V105H406.18V105H407.5V108.99H406.18V108.11H404.87V108.14H403.55V108.98H402.23V109.72H400.92V108.52H399.6V109.37H398.28V109.7H396.97V109.02H395.65V109.58H394.33V108.34H393.02V109.81H391.7Z" fill="#376bb4"/>
<path d="M391.7 109.81H393.02V108.34H394.33V109.58H395.65V109.02H396.97V109.7H398.28V109.37H399.6V108.52H400.92V109.72H402.23V108.98H403.55V108.14H404.87V108.11H406.18V108.99H407.5V110.16H406.18V109.45H404.87V108.84H403.55V110.25H402.23V110.92H400.92V109.12H399.6V110.64H398.28V110.55H396.97V109.89H395.65V110.29H394.33V109.18H393.02V110.78H391.7Z" fill="#d3191c"/>
<path d="M391.7 131.26H393.02V131.63H394.33V131.58H395.65V131.56H396.97V131.2H398.28V131.45H399.6V131.58H400.92V131.54H402.23V131.63H403.55V131.77H404.87V131.74H406.18V131.3H407.5V135H406.18V135H404.87V135H403.55V135H402.23V135H400.92V135H399.6V135H398.28V135H396.97V135H395.65V135H394.33V135H393.02V135H391.7Z" fill="#f0912f"/>
<rect x="407.5" y="105" width="15.95" height="30" fill="#73bf60"/>
<path d="M407.5 105H408.82V105H410.15V105H411.48V105H412.8V105H414.12V105H415.45V105H416.77V105H418.1V105H419.42V105H420.75V105H422.07V105H423.4V105.58H422.07V105.53H420.75V105.56H419.42V105.58H418.1V105.59H416.77V105.47H415.45V105.44H414.12V105.5H412.8V105.45H411.48V105.45H410.15V105.59H408.82V105.46H407.5Z" fill="#376bb4"/>
<path d="M407.5 130.24H408.82V130.47H410.15V130.37H411.48V130.77H412.8V130.36H414.12V130.53H415.45V130.35H416.77V130.41H418.1V130.63H419.42V130.77H420.75V130.24H422.07V130.72H423.4V135H422.07V135H420.75V135H419.42V135H418.1V135H416.77V135H415.45V135H414.12V135H412.8V135H411.48V135H410.15V135H408.82V135H407.5Z" fill="#f0912f"/>
<rect x="423.4" y="105" width="16.15" height="30" fill="#376bb4"/>
<rect x="423.4" y="127" width="2.1" height="8" fill="#73bf60"/>
<rect x="423.4" y="132" width="1.1" height="3" fill="#f0912f"/>
<rect x="426" y="130" width="1.5" height="5" fill="#73bf60"/>
<rect x="439.5" y="105" width="23.05" height="30" fill="#f0912f"/>
<path d="M439.5 105H440.78V105H442.06V105H443.33V105H444.61V105H445.89V105H447.17V105H448.44V105H449.72V105H451V105H452.28V105H453.56V105H454.83V105H456.11V105H457.39V105H458.67V105H459.94V105H461.22V105H462.5V106H461.22V105.96H459.94V105.69H458.67V105.8H457.39V105.96H456.11V105.68H454.83V105.66H453.56V105.67H452.28V105.76H451V105.82H449.72V105.72H448.44V105.86H447.17V105.7H445.89V105.99H444.61V105.9H443.33V105.72H442.06V105.74H440.78V105.79H439.5Z" fill="#d3191c"/>
<rect x="439.5" y="105" width="1.7" height="30" fill="#73bf60"/>
<rect x="441.8" y="105" width="0.8" height="9" fill="#73bf60"/>
<rect x="459.6" y="105" width="2.9" height="4" fill="#73bf60"/>
<rect x="462.5" y="105" width="16.35" height="30" fill="#73bf60"/>
<path d="M462.5 105H463.75V105H465.01V105H466.26V105H467.52V105H468.77V105H470.02V105H471.28V105H472.53V105H473.78V105H475.04V105H476.29V105H477.55V105H478.8V105.95H477.55V105.95H476.29V106.15H475.04V106.23H473.78V106.04H472.53V105.86H471.28V105.84H470.02V105.75H468.77V105.91H467.52V105.75H466.26V105.82H465.01V105.78H463.75V105.97H462.5Z" fill="#376bb4"/>
<path d="M462.5 129.49H463.75V129.57H465.01V129.6H466.26V129.76H467.52V129.63H468.77V129.22H470.02V129.72H471.28V129.5H472.53V129.42H473.78V129.28H475.04V129.67H476.29V129.64H477.55V129.65H478.8V135H477.55V135H476.29V135H475.04V135H473.78V135H472.53V135H471.28V135H470.02V135H468.77V135H467.52V135H466.26V135H465.01V135H463.75V135H462.5Z" fill="#f0912f"/>
<rect x="478.8" y="105" width="15.65" height="30" fill="#73bf60"/>
<path d="M478.8 105H480.1V105H481.4V105H482.7V105H484V105H485.3V105H486.6V105H487.9V105H489.2V105H490.5V105H491.8V105H493.1V105H494.4V105.7H493.1V106.05H491.8V105.98H490.5V106.24H489.2V106.13H487.9V105.72H486.6V105.71H485.3V106.22H484V106.21H482.7V106.27H481.4V105.97H480.1V105.94H478.8Z" fill="#376bb4"/>
<path d="M478.8 129.57H480.1V129.24H481.4V129.3H482.7V129.29H484V129.22H485.3V129.65H486.6V129.73H487.9V129.71H489.2V129.49H490.5V129.39H491.8V129.24H493.1V129.37H494.4V135H493.1V135H491.8V135H490.5V135H489.2V135H487.9V135H486.6V135H485.3V135H484V135H482.7V135H481.4V135H480.1V135H478.8Z" fill="#f0912f"/>
<rect x="494.4" y="105" width="15.85" height="30" fill="#d3191c"/>
<path d="M494.4 105H495.72V105H497.03V105H498.35V105H499.67V105H500.98V105H502.3V105H503.62V105H504.93V105H506.25V105H507.57V105H508.88V105H510.2V105.7H508.88V105.65H507.57V105.72H506.25V105.86H504.93V105.97H503.62V105.69H502.3V105.91H500.98V105.62H499.67V105.82H498.35V105.78H497.03V105.91H495.72V105.86H494.4Z" fill="#376bb4"/>
<rect x="494.4" y="125" width="1.8" height="10" fill="#73bf60"/>
<rect x="496.8" y="129" width="1.4" height="6" fill="#73bf60"/>
<rect x="510.2" y="105" width="15.75" height="30" fill="#73bf60"/>
<path d="M510.2 105H511.51V105H512.82V105H514.12V105H515.43V105H516.74V105H518.05V105H519.36V105H520.67V105H521.98V105H523.28V105H524.59V105H525.9V105.98H524.59V105.88H523.28V105.71H521.98V106.06H520.67V105.83H519.36V105.93H518.05V106.05H516.74V106.01H515.43V105.74H514.12V105.77H512.82V106.12H511.51V106.08H510.2Z" fill="#376bb4"/>
<path d="M510.2 129.22H511.51V129.41H512.82V129.27H514.12V129.51H515.43V129.66H516.74V129.65H518.05V129.22H519.36V129.38H520.67V129.62H521.98V129.79H523.28V129.5H524.59V129.4H525.9V135H524.59V135H523.28V135H521.98V135H520.67V135H519.36V135H518.05V135H516.74V135H515.43V135H514.12V135H512.82V135H511.51V135H510.2Z" fill="#f0912f"/>
<rect x="525.9" y="105" width="15.55" height="30" fill="#73bf60"/>
<path d="M525.9 105H527.19V105H528.48V105H529.77V105H531.07V105H532.36V105H533.65V105H534.94V105H536.23V105H537.52V105H538.82V105H540.11V105H541.4V111.94H540.11V111.98H538.82V111.62H537.52V111.91H536.23V111.75H534.94V111.7H533.65V111.52H532.36V111.64H531.07V112.06H529.77V111.9H528.48V111.65H527.19V111.75H525.9Z" fill="#376bb4"/>
<path d="M525.9 111.75H527.19V111.65H528.48V111.9H529.77V112.06H531.07V111.64H532.36V111.52H533.65V111.7H534.94V111.75H536.23V111.91H537.52V111.62H538.82V111.98H540.11V111.94H541.4V113.02H540.11V113.18H538.82V113H537.52V113.03H536.23V113.06H534.94V112.79H533.65V112.61H532.36V112.96H531.07V113.18H529.77V113.29H528.48V112.74H527.19V112.95H525.9Z" fill="#d3191c"/>
<line x1="314.3" x2="314.3" y1="105" y2="135" stroke="#ffffff" stroke-opacity="0.25" stroke-width="0.6"/>
<line x1="329.7" x2="329.7" y1="105" y2="135" stroke="#ffffff" stroke-opacity="0.25" stroke-width="0.6"/>
<line x1="345.1" x2="345.1" y1="105" y2="135" stroke="#ffffff" stroke-opacity="0.25" stroke-width="0.6"/>
<line x1="360.9" x2="360.9" y1="105" y2="135" stroke="#ffffff" stroke-opacity="0.25" stroke-width="0.6"/>
<line x1="376.3" x2="376.3" y1="105" y2="135" stroke="#ffffff" stroke-opacity="0.25" stroke-width="0.6"/>
<line x1="391.7" x2="391.7" y1="105" y2="135" stroke="#ffffff" stroke-opacity="0.25" stroke-width="0.6"/>
<line x1="407.5" x2="407.5" y1="105" y2="135" stroke="#ffffff" stroke-opacity="0.25" stroke-width="0.6"/>
<line x1="423.4" x2="423.4" y1="105" y2="135" stroke="#ffffff" stroke-opacity="0.25" stroke-width="0.6"/>
<line x1="439.5" x2="439.5" y1="105" y2="135" stroke="#ffffff" stroke-opacity="0.25" stroke-width="0.6"/>
<line x1="462.5" x2="462.5" y1="105" y2="135" stroke="#ffffff" stroke-opacity="0.25" stroke-width="0.6"/>
<line x1="478.8" x2="478.8" y1="105" y2="135" stroke="#ffffff" stroke-opacity="0.25" stroke-width="0.6"/>
<line x1="494.4" x2="494.4" y1="105" y2="135" stroke="#ffffff" stroke-opacity="0.25" stroke-width="0.6"/>
<line x1="510.2" x2="510.2" y1="105" y2="135" stroke="#ffffff" stroke-opacity="0.25" stroke-width="0.6"/>
<line x1="525.9" x2="525.9" y1="105" y2="135" stroke="#ffffff" stroke-opacity="0.25" stroke-width="0.6"/>
<text transform="translate(543.3 121.5) rotate(90)" font-size="5.4" text-anchor="middle" fill="#222">K=4</text>
<line x1="294.3" x2="297.3" y1="142.5" y2="142.5" stroke="#c8c8c8" stroke-width="0.7"/>
<line x1="294.3" x2="297.3" y1="150" y2="150" stroke="#c8c8c8" stroke-width="0.7"/>
<line x1="294.3" x2="297.3" y1="157.5" y2="157.5" stroke="#c8c8c8" stroke-width="0.7"/>
<line x1="294.3" x2="297.3" y1="165" y2="165" stroke="#c8c8c8" stroke-width="0.7"/>
<line x1="294.3" x2="297.3" y1="172.5" y2="172.5" stroke="#c8c8c8" stroke-width="0.7"/>
<rect x="298.3" y="142.5" width="16.05" height="30" fill="#f0912f"/>
<path d="M298.3 142.5H299.63V142.5H300.97V142.5H302.3V142.5H303.63V142.5H304.97V142.5H306.3V142.5H307.63V142.5H308.97V142.5H310.3V142.5H311.63V142.5H312.97V142.5H314.3V143.44H312.97V143.24H311.63V143.23H310.3V143.29H308.97V143.78H307.63V143.33H306.3V143.44H304.97V143.29H303.63V143.77H302.3V143.6H300.97V143.45H299.63V143.33H298.3Z" fill="#376bb4"/>
<rect x="314.3" y="142.5" width="15.45" height="30" fill="#f0912f"/>
<path d="M314.3 142.5H315.58V142.5H316.87V142.5H318.15V142.5H319.43V142.5H320.72V142.5H322V142.5H323.28V142.5H324.57V142.5H325.85V142.5H327.13V142.5H328.42V142.5H329.7V143.25H328.42V143.37H327.13V143.11H325.85V143.4H324.57V143.47H323.28V143.17H322V143.23H320.72V143.47H319.43V143.5H318.15V143.39H316.87V143.45H315.58V143.46H314.3Z" fill="#376bb4"/>
<rect x="329.7" y="142.5" width="15.45" height="30" fill="#f0912f"/>
<path d="M329.7 142.5H330.98V142.5H332.27V142.5H333.55V142.5H334.83V142.5H336.12V142.5H337.4V142.5H338.68V142.5H339.97V142.5H341.25V142.5H342.53V142.5H343.82V142.5H345.1V143.63H343.82V143.44H342.53V143.38H341.25V143.69H339.97V143.35H338.68V143.68H337.4V143.44H336.12V143.41H334.83V143.3H333.55V143.37H332.27V143.43H330.98V143.45H329.7Z" fill="#376bb4"/>
<path d="M329.7 143.45H330.98V143.43H332.27V143.37H333.55V143.3H334.83V143.41H336.12V143.44H337.4V143.68H338.68V143.35H339.97V143.69H341.25V143.38H342.53V143.44H343.82V143.63H345.1V145.32H343.82V144.89H342.53V144.6H341.25V145.42H339.97V144.77H338.68V145H337.4V145.19H336.12V144.84H334.83V144.79H333.55V144.6H332.27V144.89H330.98V145.14H329.7Z" fill="#73bf60"/>
<path d="M329.7 170.39H330.98V170.68H332.27V170.69H333.55V170.67H334.83V170.33H336.12V170.6H337.4V170.4H338.68V170.34H339.97V170.56H341.25V170.59H342.53V170.32H343.82V170.45H345.1V172.5H343.82V172.5H342.53V172.5H341.25V172.5H339.97V172.5H338.68V172.5H337.4V172.5H336.12V172.5H334.83V172.5H333.55V172.5H332.27V172.5H330.98V172.5H329.7Z" fill="#744f9f"/>
<rect x="345.1" y="142.5" width="15.85" height="30" fill="#f0912f"/>
<path d="M345.1 142.5H346.42V142.5H347.73V142.5H349.05V142.5H350.37V142.5H351.68V142.5H353V142.5H354.32V142.5H355.63V142.5H356.95V142.5H358.27V142.5H359.58V142.5H360.9V143.29H359.58V143.19H358.27V143.11H356.95V143.48H355.63V143.35H354.32V143.47H353V143.4H351.68V143.1H350.37V143.21H349.05V143.23H347.73V143.39H346.42V143.2H345.1Z" fill="#376bb4"/>
<path d="M345.1 143.2H346.42V143.39H347.73V143.23H349.05V143.21H350.37V143.1H351.68V143.4H353V143.47H354.32V143.35H355.63V143.48H356.95V143.11H358.27V143.19H359.58V143.29H360.9V144.95H359.58V144.89H358.27V144.75H356.95V145.16H355.63V144.66H354.32V145.22H353V144.9H351.68V144.56H350.37V144.56H349.05V144.66H347.73V145.16H346.42V144.98H345.1Z" fill="#73bf60"/>
<path d="M345.1 170.76H346.42V170.87H347.73V170.87H349.05V170.86H350.37V170.69H351.68V170.97H353V170.92H354.32V170.7H355.63V170.9H356.95V170.97H358.27V170.99H359.58V170.78H360.9V172.5H359.58V172.5H358.27V172.5H356.95V172.5H355.63V172.5H354.32V172.5H353V172.5H351.68V172.5H350.37V172.5H349.05V172.5H347.73V172.5H346.42V172.5H345.1Z" fill="#744f9f"/>
<rect x="360.9" y="142.5" width="15.45" height="30" fill="#f0912f"/>
<path d="M360.9 142.5H362.18V142.5H363.47V142.5H364.75V142.5H366.03V142.5H367.32V142.5H368.6V142.5H369.88V142.5H371.17V142.5H372.45V142.5H373.73V142.5H375.02V142.5H376.3V143.25H375.02V143.14H373.73V143.27H372.45V143.43H371.17V143.3H369.88V143.06H368.6V143.05H367.32V143.16H366.03V143.59H364.75V143.53H363.47V143.59H362.18V143.2H360.9Z" fill="#d3191c"/>
<path d="M360.9 143.2H362.18V143.59H363.47V143.53H364.75V143.59H366.03V143.16H367.32V143.05H368.6V143.06H369.88V143.3H371.17V143.43H372.45V143.27H373.73V143.14H375.02V143.25H376.3V143.83H375.02V143.94H373.73V143.92H372.45V144.15H371.17V143.92H369.88V143.89H368.6V143.6H367.32V143.92H366.03V144.43H364.75V144.33H363.47V144.36H362.18V143.94H360.9Z" fill="#376bb4"/>
<path d="M360.9 143.94H362.18V144.36H363.47V144.33H364.75V144.43H366.03V143.92H367.32V143.6H368.6V143.89H369.88V143.92H371.17V144.15H372.45V143.92H373.73V143.94H375.02V143.83H376.3V146.45H375.02V146.68H373.73V146.2H372.45V146.66H371.17V146.81H369.88V146.31H368.6V145.96H367.32V146.49H366.03V147.24H364.75V146.55H363.47V146.65H362.18V146.24H360.9Z" fill="#73bf60"/>
<path d="M360.9 169.8H362.18V170.16H363.47V170.01H364.75V169.87H366.03V169.86H367.32V169.83H368.6V170.18H369.88V170.08H371.17V170.15H372.45V170.12H373.73V169.81H375.02V169.97H376.3V172.5H375.02V172.5H373.73V172.5H372.45V172.5H371.17V172.5H369.88V172.5H368.6V172.5H367.32V172.5H366.03V172.5H364.75V172.5H363.47V172.5H362.18V172.5H360.9Z" fill="#744f9f"/>
<rect x="376.3" y="142.5" width="15.45" height="30" fill="#f0912f"/>
<path d="M376.3 142.5H377.58V142.5H378.87V142.5H380.15V142.5H381.43V142.5H382.72V142.5H384V142.5H385.28V142.5H386.57V142.5H387.85V142.5H389.13V142.5H390.42V142.5H391.7V143.05H390.42V142.99H389.13V143.15H387.85V143.14H386.57V142.94H385.28V143.28H384V143.21H382.72V143H381.43V143.08H380.15V143.25H378.87V143.05H377.58V143.27H376.3Z" fill="#d3191c"/>
<path d="M376.3 143.27H377.58V143.05H378.87V143.25H380.15V143.08H381.43V143H382.72V143.21H384V143.28H385.28V142.94H386.57V143.14H387.85V143.15H389.13V142.99H390.42V143.05H391.7V143.43H390.42V143.41H389.13V143.52H387.85V143.71H386.57V143.37H385.28V143.58H384V143.59H382.72V143.56H381.43V143.62H380.15V143.65H378.87V143.43H377.58V143.63H376.3Z" fill="#376bb4"/>
<path d="M376.3 143.63H377.58V143.43H378.87V143.65H380.15V143.62H381.43V143.56H382.72V143.59H384V143.58H385.28V143.37H386.57V143.71H387.85V143.52H389.13V143.41H390.42V143.43H391.7V145.66H390.42V145.74H389.13V146.08H387.85V145.84H386.57V145.45H385.28V146.09H384V146.03H382.72V145.88H381.43V145.7H380.15V145.7H378.87V145.87H377.58V146.26H376.3Z" fill="#73bf60"/>
<path d="M376.3 170.08H377.58V169.82H378.87V170.08H380.15V169.97H381.43V170.06H382.72V170.03H384V169.85H385.28V169.8H386.57V170.05H387.85V170.12H389.13V169.91H390.42V170.12H391.7V172.5H390.42V172.5H389.13V172.5H387.85V172.5H386.57V172.5H385.28V172.5H384V172.5H382.72V172.5H381.43V172.5H380.15V172.5H378.87V172.5H377.58V172.5H376.3Z" fill="#744f9f"/>
<rect x="391.7" y="142.5" width="15.85" height="30" fill="#f0912f"/>
<path d="M391.7 142.5H393.02V142.5H394.33V142.5H395.65V142.5H396.97V142.5H398.28V142.5H399.6V142.5H400.92V142.5H402.23V142.5H403.55V142.5H404.87V142.5H406.18V142.5H407.5V147.74H406.18V147.25H404.87V147.09H403.55V146.13H402.23V146.39H400.92V146.93H399.6V147.69H398.28V146.83H396.97V147.58H395.65V146.86H394.33V147.72H393.02V146.11H391.7Z" fill="#376bb4"/>
<path d="M391.7 146.11H393.02V147.72H394.33V146.86H395.65V147.58H396.97V146.83H398.28V147.69H399.6V146.93H400.92V146.39H402.23V146.13H403.55V147.09H404.87V147.25H406.18V147.74H407.5V149.11H406.18V148.5H404.87V148.09H403.55V146.81H402.23V147.73H400.92V147.95H399.6V148.52H398.28V147.55H396.97V148.58H395.65V147.76H394.33V148.82H393.02V146.78H391.7Z" fill="#d3191c"/>
<path d="M391.7 171.62H393.02V171.65H394.33V171.32H395.65V171.31H396.97V171.51H398.28V171.68H399.6V171.33H400.92V171.54H402.23V171.34H403.55V171.45H404.87V171.37H406.18V171.64H407.5V172.5H406.18V172.5H404.87V172.5H403.55V172.5H402.23V172.5H400.92V172.5H399.6V172.5H398.28V172.5H396.97V172.5H395.65V172.5H394.33V172.5H393.02V172.5H391.7Z" fill="#744f9f"/>
<rect x="407.5" y="142.5" width="15.95" height="30" fill="#f0912f"/>
<path d="M407.5 142.5H408.82V142.5H410.15V142.5H411.48V142.5H412.8V142.5H414.12V142.5H415.45V142.5H416.77V142.5H418.1V142.5H419.42V142.5H420.75V142.5H422.07V142.5H423.4V144.35H422.07V144.27H420.75V144.43H419.42V144.51H418.1V144.44H416.77V144.33H415.45V144.31H414.12V144.7H412.8V144.71H411.48V144.44H410.15V144.33H408.82V144.67H407.5Z" fill="#73bf60"/>
<path d="M407.5 170.91H408.82V170.84H410.15V171.18H411.48V170.98H412.8V170.9H414.12V171.18H415.45V170.86H416.77V171.15H418.1V170.96H419.42V170.98H420.75V170.95H422.07V171.08H423.4V172.5H422.07V172.5H420.75V172.5H419.42V172.5H418.1V172.5H416.77V172.5H415.45V172.5H414.12V172.5H412.8V172.5H411.48V172.5H410.15V172.5H408.82V172.5H407.5Z" fill="#744f9f"/>
<rect x="423.4" y="142.5" width="16.15" height="30" fill="#376bb4"/>
<rect x="423.4" y="166.5" width="2.1" height="6" fill="#f0912f"/>
<rect x="426" y="168.5" width="1.8" height="4" fill="#f0912f"/>
<rect x="439.5" y="142.5" width="23.05" height="30" fill="#744f9f"/>
<path d="M439.5 142.5H440.78V142.5H442.06V142.5H443.33V142.5H444.61V142.5H445.89V142.5H447.17V142.5H448.44V142.5H449.72V142.5H451V142.5H452.28V142.5H453.56V142.5H454.83V142.5H456.11V142.5H457.39V142.5H458.67V142.5H459.94V142.5H461.22V142.5H462.5V142.99H461.22V142.93H459.94V142.92H458.67V142.99H457.39V142.94H456.11V142.99H454.83V143.06H453.56V143.05H452.28V142.95H451V143H449.72V143.02H448.44V142.9H447.17V142.99H445.89V142.99H444.61V143.03H443.33V142.99H442.06V143.02H440.78V142.98H439.5Z" fill="#d3191c"/>
<rect x="439.5" y="142.5" width="1.7" height="30" fill="#f0912f"/>
<rect x="441.6" y="142.5" width="1.4" height="16" fill="#f0912f"/>
<rect x="458.8" y="142.5" width="3.7" height="4.5" fill="#73bf60"/>
<rect x="443" y="142.5" width="1" height="6" fill="#f0912f"/>
<rect x="462.5" y="142.5" width="16.35" height="30" fill="#f0912f"/>
<path d="M462.5 142.5H463.75V142.5H465.01V142.5H466.26V142.5H467.52V142.5H468.77V142.5H470.02V142.5H471.28V142.5H472.53V142.5H473.78V142.5H475.04V142.5H476.29V142.5H477.55V142.5H478.8V143.48H477.55V143.25H476.29V143.3H475.04V143.12H473.78V143.3H472.53V143.41H471.28V143.39H470.02V143.13H468.77V143.35H467.52V143.12H466.26V143.3H465.01V143.28H463.75V143.14H462.5Z" fill="#376bb4"/>
<path d="M462.5 143.14H463.75V143.28H465.01V143.3H466.26V143.12H467.52V143.35H468.77V143.13H470.02V143.39H471.28V143.41H472.53V143.3H473.78V143.12H475.04V143.3H476.29V143.25H477.55V143.48H478.8V145.94H477.55V145.62H476.29V145.3H475.04V145.57H473.78V145.78H472.53V145.61H471.28V145.88H470.02V145.15H468.77V145.74H467.52V145.46H466.26V145.8H465.01V145.69H463.75V145.12H462.5Z" fill="#73bf60"/>
<path d="M462.5 170.17H463.75V170.06H465.01V169.9H466.26V170.14H467.52V169.84H468.77V170.09H470.02V169.87H471.28V170.14H472.53V170H473.78V169.83H475.04V170.12H476.29V170.09H477.55V170H478.8V172.5H477.55V172.5H476.29V172.5H475.04V172.5H473.78V172.5H472.53V172.5H471.28V172.5H470.02V172.5H468.77V172.5H467.52V172.5H466.26V172.5H465.01V172.5H463.75V172.5H462.5Z" fill="#744f9f"/>
<rect x="478.8" y="142.5" width="15.65" height="30" fill="#f0912f"/>
<path d="M478.8 142.5H480.1V142.5H481.4V142.5H482.7V142.5H484V142.5H485.3V142.5H486.6V142.5H487.9V142.5H489.2V142.5H490.5V142.5H491.8V142.5H493.1V142.5H494.4V143.35H493.1V143.31H491.8V143.15H490.5V143.41H489.2V143.17H487.9V143.46H486.6V143.37H485.3V143.47H484V143.16H482.7V143.17H481.4V143.11H480.1V143.23H478.8Z" fill="#376bb4"/>
<path d="M478.8 143.23H480.1V143.11H481.4V143.17H482.7V143.16H484V143.47H485.3V143.37H486.6V143.46H487.9V143.17H489.2V143.41H490.5V143.15H491.8V143.31H493.1V143.35H494.4V145.85H493.1V145.37H491.8V145.52H490.5V145.55H489.2V145.45H487.9V145.95H486.6V145.33H485.3V145.9H484V145.41H482.7V145.41H481.4V145.54H480.1V145.34H478.8Z" fill="#73bf60"/>
<path d="M478.8 169.97H480.1V170.06H481.4V169.89H482.7V170.02H484V170.13H485.3V169.9H486.6V170.18H487.9V169.87H489.2V170.1H490.5V169.94H491.8V169.81H493.1V169.97H494.4V172.5H493.1V172.5H491.8V172.5H490.5V172.5H489.2V172.5H487.9V172.5H486.6V172.5H485.3V172.5H484V172.5H482.7V172.5H481.4V172.5H480.1V172.5H478.8Z" fill="#744f9f"/>
<rect x="494.4" y="142.5" width="15.85" height="30" fill="#d3191c"/>
<path d="M494.4 142.5H495.72V142.5H497.03V142.5H498.35V142.5H499.67V142.5H500.98V142.5H502.3V142.5H503.62V142.5H504.93V142.5H506.25V142.5H507.57V142.5H508.88V142.5H510.2V143.13H508.88V143.05H507.57V143.03H506.25V143.18H504.93V143.1H503.62V143.09H502.3V143.12H500.98V143.03H499.67V143.01H498.35V143H497.03V143.06H495.72V143.13H494.4Z" fill="#376bb4"/>
<rect x="494.4" y="163.5" width="2.1" height="9" fill="#f0912f"/>
<rect x="497" y="167.5" width="1.4" height="5" fill="#f0912f"/>
<rect x="510.2" y="142.5" width="15.75" height="30" fill="#f0912f"/>
<path d="M510.2 142.5H511.51V142.5H512.82V142.5H514.12V142.5H515.43V142.5H516.74V142.5H518.05V142.5H519.36V142.5H520.67V142.5H521.98V142.5H523.28V142.5H524.59V142.5H525.9V144.28H524.59V144.48H523.28V144.57H521.98V144.32H520.67V144.55H519.36V144.55H518.05V144.33H516.74V144.41H515.43V144.26H514.12V144.41H512.82V144.2H511.51V144.21H510.2Z" fill="#73bf60"/>
<path d="M510.2 170.33H511.51V170.6H512.82V170.64H514.12V170.66H515.43V170.44H516.74V170.35H518.05V170.39H519.36V170.54H520.67V170.59H521.98V170.7H523.28V170.44H524.59V170.48H525.9V172.5H524.59V172.5H523.28V172.5H521.98V172.5H520.67V172.5H519.36V172.5H518.05V172.5H516.74V172.5H515.43V172.5H514.12V172.5H512.82V172.5H511.51V172.5H510.2Z" fill="#744f9f"/>
<rect x="525.9" y="142.5" width="15.55" height="30" fill="#73bf60"/>
<line x1="314.3" x2="314.3" y1="142.5" y2="172.5" stroke="#ffffff" stroke-opacity="0.25" stroke-width="0.6"/>
<line x1="329.7" x2="329.7" y1="142.5" y2="172.5" stroke="#ffffff" stroke-opacity="0.25" stroke-width="0.6"/>
<line x1="345.1" x2="345.1" y1="142.5" y2="172.5" stroke="#ffffff" stroke-opacity="0.25" stroke-width="0.6"/>
<line x1="360.9" x2="360.9" y1="142.5" y2="172.5" stroke="#ffffff" stroke-opacity="0.25" stroke-width="0.6"/>
<line x1="376.3" x2="376.3" y1="142.5" y2="172.5" stroke="#ffffff" stroke-opacity="0.25" stroke-width="0.6"/>
<line x1="391.7" x2="391.7" y1="142.5" y2="172.5" stroke="#ffffff" stroke-opacity="0.25" stroke-width="0.6"/>
<line x1="407.5" x2="407.5" y1="142.5" y2="172.5" stroke="#ffffff" stroke-opacity="0.25" stroke-width="0.6"/>
<line x1="423.4" x2="423.4" y1="142.5" y2="172.5" stroke="#ffffff" stroke-opacity="0.25" stroke-width="0.6"/>
<line x1="439.5" x2="439.5" y1="142.5" y2="172.5" stroke="#ffffff" stroke-opacity="0.25" stroke-width="0.6"/>
<line x1="462.5" x2="462.5" y1="142.5" y2="172.5" stroke="#ffffff" stroke-opacity="0.25" stroke-width="0.6"/>
<line x1="478.8" x2="478.8" y1="142.5" y2="172.5" stroke="#ffffff" stroke-opacity="0.25" stroke-width="0.6"/>
<line x1="494.4" x2="494.4" y1="142.5" y2="172.5" stroke="#ffffff" stroke-opacity="0.25" stroke-width="0.6"/>
<line x1="510.2" x2="510.2" y1="142.5" y2="172.5" stroke="#ffffff" stroke-opacity="0.25" stroke-width="0.6"/>
<line x1="525.9" x2="525.9" y1="142.5" y2="172.5" stroke="#ffffff" stroke-opacity="0.25" stroke-width="0.6"/>
<text transform="translate(543.3 159) rotate(90)" font-size="5.4" text-anchor="middle" fill="#222">K=5</text>
<line x1="294.3" x2="297.3" y1="180" y2="180" stroke="#c8c8c8" stroke-width="0.7"/>
<line x1="294.3" x2="297.3" y1="187.5" y2="187.5" stroke="#c8c8c8" stroke-width="0.7"/>
<line x1="294.3" x2="297.3" y1="195" y2="195" stroke="#c8c8c8" stroke-width="0.7"/>
<line x1="294.3" x2="297.3" y1="202.5" y2="202.5" stroke="#c8c8c8" stroke-width="0.7"/>
<line x1="294.3" x2="297.3" y1="210" y2="210" stroke="#c8c8c8" stroke-width="0.7"/>
<rect x="298.3" y="180" width="16.05" height="30" fill="#f0912f"/>
<path d="M298.3 180H299.63V180H300.97V180H302.3V180H303.63V180H304.97V180H306.3V180H307.63V180H308.97V180H310.3V180H311.63V180H312.97V180H314.3V180.41H312.97V180.45H311.63V180.48H310.3V180.51H308.97V180.41H307.63V180.58H306.3V180.45H304.97V180.55H303.63V180.59H302.3V180.49H300.97V180.53H299.63V180.47H298.3Z" fill="#744f9f"/>
<rect x="314.3" y="180" width="15.45" height="30" fill="#f0912f"/>
<path d="M314.3 180H315.58V180H316.87V180H318.15V180H319.43V180H320.72V180H322V180H323.28V180H324.57V180H325.85V180H327.13V180H328.42V180H329.7V180.46H328.42V180.43H327.13V180.56H325.85V180.53H324.57V180.5H323.28V180.52H322V180.44H320.72V180.43H319.43V180.59H318.15V180.51H316.87V180.4H315.58V180.56H314.3Z" fill="#744f9f"/>
<rect x="314.3" y="203.5" width="1.9" height="6.5" fill="#1184a7"/>
<rect x="318" y="208" width="2" height="2" fill="#1184a7"/>
<rect x="322" y="208.8" width="5" height="1.2" fill="#1184a7"/>
<rect x="327" y="205" width="2.7" height="5" fill="#1184a7"/>
<rect x="329.7" y="180" width="15.45" height="30" fill="#f0912f"/>
<path d="M329.7 180H330.98V180H332.27V180H333.55V180H334.83V180H336.12V180H337.4V180H338.68V180H339.97V180H341.25V180H342.53V180H343.82V180H345.1V180.45H343.82V180.49H342.53V180.55H341.25V180.49H339.97V180.55H338.68V180.57H337.4V180.4H336.12V180.54H334.83V180.56H333.55V180.58H332.27V180.41H330.98V180.46H329.7Z" fill="#744f9f"/>
<path d="M329.7 194.93H330.98V194.73H332.27V195.04H333.55V194.56H334.83V193.9H336.12V193.99H337.4V193.75H338.68V193.96H339.97V194.67H341.25V194.21H342.53V194.4H343.82V193.84H345.1V210H343.82V210H342.53V210H341.25V210H339.97V210H338.68V210H337.4V210H336.12V210H334.83V210H333.55V210H332.27V210H330.98V210H329.7Z" fill="#1184a7"/>
<rect x="345.1" y="180" width="15.85" height="30" fill="#f0912f"/>
<path d="M345.1 180H346.42V180H347.73V180H349.05V180H350.37V180H351.68V180H353V180H354.32V180H355.63V180H356.95V180H358.27V180H359.58V180H360.9V180.55H359.58V180.59H358.27V180.55H356.95V180.45H355.63V180.45H354.32V180.4H353V180.58H351.68V180.44H350.37V180.59H349.05V180.53H347.73V180.45H346.42V180.5H345.1Z" fill="#744f9f"/>
<path d="M345.1 191.71H346.42V191.04H347.73V191.71H349.05V191.81H350.37V191.01H351.68V191.34H353V191.27H354.32V191.3H355.63V190.93H356.95V191.54H358.27V191.09H359.58V191.26H360.9V210H359.58V210H358.27V210H356.95V210H355.63V210H354.32V210H353V210H351.68V210H350.37V210H349.05V210H347.73V210H346.42V210H345.1Z" fill="#1184a7"/>
<rect x="360.9" y="180" width="15.45" height="30" fill="#1184a7"/>
<path d="M360.9 180H362.18V180H363.47V180H364.75V180H366.03V180H367.32V180H368.6V180H369.88V180H371.17V180H372.45V180H373.73V180H375.02V180H376.3V180.76H375.02V180.72H373.73V180.79H372.45V181.25H371.17V180.75H369.88V181.07H368.6V180.83H367.32V180.88H366.03V181.04H364.75V181.13H363.47V180.96H362.18V181.21H360.9Z" fill="#744f9f"/>
<path d="M360.9 181.21H362.18V180.96H363.47V181.13H364.75V181.04H366.03V180.88H367.32V180.83H368.6V181.07H369.88V180.75H371.17V181.25H372.45V180.79H373.73V180.72H375.02V180.76H376.3V181.48H375.02V181.57H373.73V181.33H372.45V182.19H371.17V181.66H369.88V181.95H368.6V181.74H367.32V181.41H366.03V181.56H364.75V181.72H363.47V181.67H362.18V182.27H360.9Z" fill="#d3191c"/>
<path d="M360.9 182.27H362.18V181.67H363.47V181.72H364.75V181.56H366.03V181.41H367.32V181.74H368.6V181.95H369.88V181.66H371.17V182.19H372.45V181.33H373.73V181.57H375.02V181.48H376.3V182.89H375.02V182.49H373.73V182.29H372.45V183.21H371.17V182.63H369.88V183.42H368.6V183.19H367.32V182.83H366.03V182.5H364.75V183.15H363.47V183.06H362.18V183.66H360.9Z" fill="#376bb4"/>
<path d="M360.9 183.66H362.18V183.06H363.47V183.15H364.75V182.5H366.03V182.83H367.32V183.19H368.6V183.42H369.88V182.63H371.17V183.21H372.45V182.29H373.73V182.49H375.02V182.89H376.3V184.32H375.02V184.4H373.73V184.08H372.45V184.86H371.17V184.94H369.88V184.94H368.6V184.71H367.32V184.58H366.03V184.66H364.75V185.54H363.47V185.22H362.18V186.04H360.9Z" fill="#f0912f"/>
<rect x="376.3" y="180" width="15.45" height="30" fill="#1184a7"/>
<path d="M376.3 180H377.58V180H378.87V180H380.15V180H381.43V180H382.72V180H384V180H385.28V180H386.57V180H387.85V180H389.13V180H390.42V180H391.7V182.45H390.42V182.43H389.13V182.12H387.85V182.59H386.57V182.78H385.28V182.5H384V182.87H382.72V182.36H381.43V182.39H380.15V182.67H378.87V182.33H377.58V182.31H376.3Z" fill="#744f9f"/>
<path d="M376.3 182.31H377.58V182.33H378.87V182.67H380.15V182.39H381.43V182.36H382.72V182.87H384V182.5H385.28V182.78H386.57V182.59H387.85V182.12H389.13V182.43H390.42V182.45H391.7V183.61H390.42V183.25H389.13V182.83H387.85V183.4H386.57V183.97H385.28V183.26H384V184.09H382.72V183.19H381.43V183.42H380.15V183.8H378.87V183.23H377.58V183.47H376.3Z" fill="#f0912f"/>
<rect x="391.7" y="180" width="15.85" height="30" fill="#f0912f"/>
<path d="M391.7 180H393.02V180H394.33V180H395.65V180H396.97V180H398.28V180H399.6V180H400.92V180H402.23V180H403.55V180H404.87V180H406.18V180H407.5V181.78H406.18V182.44H404.87V181.76H403.55V182.33H402.23V181.85H400.92V181.99H399.6V181.68H398.28V182.3H396.97V181.99H395.65V181.99H394.33V181.5H393.02V182.48H391.7Z" fill="#376bb4"/>
<path d="M391.7 182.48H393.02V181.5H394.33V181.99H395.65V181.99H396.97V182.3H398.28V181.68H399.6V181.99H400.92V181.85H402.23V182.33H403.55V181.76H404.87V182.44H406.18V181.78H407.5V182.72H406.18V183.36H404.87V182.84H403.55V183.5H402.23V182.97H400.92V183.17H399.6V182.43H398.28V183.38H396.97V182.76H395.65V182.99H394.33V182.62H393.02V183.31H391.7Z" fill="#d3191c"/>
<path d="M391.7 204.71H393.02V203.72H394.33V205.33H395.65V203.72H396.97V205.45H398.28V205.09H399.6V204.97H400.92V203.7H402.23V204.5H403.55V204.74H404.87V203.73H406.18V205.03H407.5V210H406.18V210H404.87V210H403.55V210H402.23V210H400.92V210H399.6V210H398.28V210H396.97V210H395.65V210H394.33V210H393.02V210H391.7Z" fill="#1184a7"/>
<rect x="391.7" y="209" width="3.3" height="1" fill="#744f9f"/>
<rect x="407.5" y="180" width="15.95" height="30" fill="#f0912f"/>
<path d="M407.5 180H408.82V180H410.15V180H411.48V180H412.8V180H414.12V180H415.45V180H416.77V180H418.1V180H419.42V180H420.75V180H422.07V180H423.4V180.33H422.07V180.45H420.75V180.43H419.42V180.47H418.1V180.33H416.77V180.37H415.45V180.37H414.12V180.43H412.8V180.45H411.48V180.45H410.15V180.41H408.82V180.39H407.5Z" fill="#744f9f"/>
<path d="M407.5 192.06H408.82V191.73H410.15V191.92H411.48V192.37H412.8V192.04H414.12V191.61H415.45V192.26H416.77V192.31H418.1V192.2H419.42V191.8H420.75V191.66H422.07V192.35H423.4V210H422.07V210H420.75V210H419.42V210H418.1V210H416.77V210H415.45V210H414.12V210H412.8V210H411.48V210H410.15V210H408.82V210H407.5Z" fill="#1184a7"/>
<rect x="423.4" y="180" width="16.15" height="30" fill="#376bb4"/>
<rect x="423.4" y="200" width="1.4" height="10" fill="#f0912f"/>
<rect x="424.8" y="202" width="1.4" height="8" fill="#1184a7"/>
<rect x="426.4" y="205" width="1.4" height="5" fill="#f0912f"/>
<rect x="439.5" y="180" width="23.05" height="30" fill="#73bf60"/>
<path d="M439.5 180H440.78V180H442.06V180H443.33V180H444.61V180H445.89V180H447.17V180H448.44V180H449.72V180H451V180H452.28V180H453.56V180H454.83V180H456.11V180H457.39V180H458.67V180H459.94V180H461.22V180H462.5V180.34H461.22V180.39H459.94V180.45H458.67V180.46H457.39V180.5H456.11V180.38H454.83V180.32H453.56V180.49H452.28V180.32H451V180.45H449.72V180.5H448.44V180.34H447.17V180.37H445.89V180.33H444.61V180.4H443.33V180.37H442.06V180.35H440.78V180.33H439.5Z" fill="#d3191c"/>
<rect x="439.5" y="192" width="1.5" height="18" fill="#376bb4"/>
<rect x="441" y="196" width="1.5" height="14" fill="#1184a7"/>
<rect x="442.8" y="200" width="0.8" height="10" fill="#376bb4"/>
<rect x="457.5" y="200" width="5" height="10" fill="#1184a7"/>
<rect x="456" y="206" width="1.5" height="4" fill="#376bb4"/>
<rect x="439.5" y="180" width="1.5" height="3" fill="#f0912f"/>
<rect x="462.5" y="180" width="16.35" height="30" fill="#1184a7"/>
<path d="M462.5 180H463.75V180H465.01V180H466.26V180H467.52V180H468.77V180H470.02V180H471.28V180H472.53V180H473.78V180H475.04V180H476.29V180H477.55V180H478.8V181.06H477.55V180.79H476.29V180.98H475.04V181.08H473.78V181H472.53V181.12H471.28V181.17H470.02V180.94H468.77V180.72H467.52V180.93H466.26V180.82H465.01V180.76H463.75V181.08H462.5Z" fill="#744f9f"/>
<path d="M462.5 181.08H463.75V180.76H465.01V180.82H466.26V180.93H467.52V180.72H468.77V180.94H470.02V181.17H471.28V181.12H472.53V181H473.78V181.08H475.04V180.98H476.29V180.79H477.55V181.06H478.8V184.71H477.55V184.07H476.29V184.44H475.04V184.79H473.78V184.33H472.53V183.26H471.28V183.79H470.02V184.34H468.77V183.7H467.52V183.57H466.26V184.6H465.01V184.14H463.75V183.65H462.5Z" fill="#f0912f"/>
<rect x="478.8" y="180" width="15.65" height="30" fill="#1184a7"/>
<path d="M478.8 180H480.1V180H481.4V180H482.7V180H484V180H485.3V180H486.6V180H487.9V180H489.2V180H490.5V180H491.8V180H493.1V180H494.4V180.95H493.1V180.85H491.8V181.08H490.5V181.13H489.2V181.17H487.9V180.95H486.6V180.76H485.3V181.08H484V180.89H482.7V180.97H481.4V181.08H480.1V181.11H478.8Z" fill="#744f9f"/>
<path d="M478.8 181.11H480.1V181.08H481.4V180.97H482.7V180.89H484V181.08H485.3V180.76H486.6V180.95H487.9V181.17H489.2V181.13H490.5V181.08H491.8V180.85H493.1V180.95H494.4V181.42H493.1V182.81H491.8V182.26H490.5V182.15H489.2V182.81H487.9V182.4H486.6V181.45H485.3V182.97H484V182.37H482.7V182.03H481.4V182.48H480.1V182.24H478.8Z" fill="#f0912f"/>
<rect x="494.4" y="180" width="15.85" height="30" fill="#d3191c"/>
<path d="M494.4 180H495.72V180H497.03V180H498.35V180H499.67V180H500.98V180H502.3V180H503.62V180H504.93V180H506.25V180H507.57V180H508.88V180H510.2V180.47H508.88V180.43H507.57V180.4H506.25V180.44H504.93V180.41H503.62V180.41H502.3V180.32H500.98V180.4H499.67V180.49H498.35V180.46H497.03V180.33H495.72V180.41H494.4Z" fill="#744f9f"/>
<rect x="494.4" y="200" width="2.1" height="10" fill="#1184a7"/>
<rect x="497" y="206" width="1" height="4" fill="#1184a7"/>
<rect x="510.2" y="180" width="15.75" height="30" fill="#1184a7"/>
<path d="M510.2 180H511.51V180H512.82V180H514.12V180H515.43V180H516.74V180H518.05V180H519.36V180H520.67V180H521.98V180H523.28V180H524.59V180H525.9V180.86H524.59V180.73H523.28V180.91H521.98V181.29H520.67V180.77H519.36V181.16H518.05V180.94H516.74V181.11H515.43V180.83H514.12V181.27H512.82V180.95H511.51V181.01H510.2Z" fill="#744f9f"/>
<path d="M510.2 181.01H511.51V180.95H512.82V181.27H514.12V180.83H515.43V181.11H516.74V180.94H518.05V181.16H519.36V180.77H520.67V181.29H521.98V180.91H523.28V180.73H524.59V180.86H525.9V181.64H524.59V181.76H523.28V182.27H521.98V182.48H520.67V181.55H519.36V181.97H518.05V181.82H516.74V182.27H515.43V181.76H514.12V182.2H512.82V181.56H511.51V181.93H510.2Z" fill="#f0912f"/>
<rect x="525.9" y="180" width="15.55" height="30" fill="#744f9f"/>
<line x1="314.3" x2="314.3" y1="180" y2="210" stroke="#ffffff" stroke-opacity="0.25" stroke-width="0.6"/>
<line x1="329.7" x2="329.7" y1="180" y2="210" stroke="#ffffff" stroke-opacity="0.25" stroke-width="0.6"/>
<line x1="345.1" x2="345.1" y1="180" y2="210" stroke="#ffffff" stroke-opacity="0.25" stroke-width="0.6"/>
<line x1="360.9" x2="360.9" y1="180" y2="210" stroke="#ffffff" stroke-opacity="0.25" stroke-width="0.6"/>
<line x1="376.3" x2="376.3" y1="180" y2="210" stroke="#ffffff" stroke-opacity="0.25" stroke-width="0.6"/>
<line x1="391.7" x2="391.7" y1="180" y2="210" stroke="#ffffff" stroke-opacity="0.25" stroke-width="0.6"/>
<line x1="407.5" x2="407.5" y1="180" y2="210" stroke="#ffffff" stroke-opacity="0.25" stroke-width="0.6"/>
<line x1="423.4" x2="423.4" y1="180" y2="210" stroke="#ffffff" stroke-opacity="0.25" stroke-width="0.6"/>
<line x1="439.5" x2="439.5" y1="180" y2="210" stroke="#ffffff" stroke-opacity="0.25" stroke-width="0.6"/>
<line x1="462.5" x2="462.5" y1="180" y2="210" stroke="#ffffff" stroke-opacity="0.25" stroke-width="0.6"/>
<line x1="478.8" x2="478.8" y1="180" y2="210" stroke="#ffffff" stroke-opacity="0.25" stroke-width="0.6"/>
<line x1="494.4" x2="494.4" y1="180" y2="210" stroke="#ffffff" stroke-opacity="0.25" stroke-width="0.6"/>
<line x1="510.2" x2="510.2" y1="180" y2="210" stroke="#ffffff" stroke-opacity="0.25" stroke-width="0.6"/>
<line x1="525.9" x2="525.9" y1="180" y2="210" stroke="#ffffff" stroke-opacity="0.25" stroke-width="0.6"/>
<text transform="translate(543.3 196.5) rotate(90)" font-size="5.4" text-anchor="middle" fill="#222">K=6</text>
<line x1="298.3" x2="541.5" y1="220.7" y2="220.7" stroke="#999" stroke-width="1.3"/>
<line x1="298.3" x2="298.3" y1="218.7" y2="222.7" stroke="#999" stroke-width="0.8"/>
<line x1="314.3" x2="314.3" y1="218.7" y2="222.7" stroke="#999" stroke-width="0.8"/>
<line x1="329.7" x2="329.7" y1="218.7" y2="222.7" stroke="#999" stroke-width="0.8"/>
<line x1="345.1" x2="345.1" y1="218.7" y2="222.7" stroke="#999" stroke-width="0.8"/>
<line x1="360.9" x2="360.9" y1="218.7" y2="222.7" stroke="#999" stroke-width="0.8"/>
<line x1="376.3" x2="376.3" y1="218.7" y2="222.7" stroke="#999" stroke-width="0.8"/>
<line x1="391.7" x2="391.7" y1="218.7" y2="222.7" stroke="#999" stroke-width="0.8"/>
<line x1="407.5" x2="407.5" y1="218.7" y2="222.7" stroke="#999" stroke-width="0.8"/>
<line x1="423.4" x2="423.4" y1="218.7" y2="222.7" stroke="#999" stroke-width="0.8"/>
<line x1="439.5" x2="439.5" y1="218.7" y2="222.7" stroke="#999" stroke-width="0.8"/>
<line x1="462.5" x2="462.5" y1="218.7" y2="222.7" stroke="#999" stroke-width="0.8"/>
<line x1="478.8" x2="478.8" y1="218.7" y2="222.7" stroke="#999" stroke-width="0.8"/>
<line x1="494.4" x2="494.4" y1="218.7" y2="222.7" stroke="#999" stroke-width="0.8"/>
<line x1="510.2" x2="510.2" y1="218.7" y2="222.7" stroke="#999" stroke-width="0.8"/>
<line x1="525.9" x2="525.9" y1="218.7" y2="222.7" stroke="#999" stroke-width="0.8"/>
<line x1="541.4" x2="541.4" y1="218.7" y2="222.7" stroke="#999" stroke-width="0.8"/>
<text x="306.3" y="227.6" font-size="5.4" text-anchor="middle" fill="#333">GS</text>
<text x="322" y="227.6" font-size="5.4" text-anchor="middle" fill="#333">HBM</text>
<text x="337.4" y="227.6" font-size="5.4" text-anchor="middle" fill="#333">HL</text>
<text x="353" y="227.6" font-size="5.4" text-anchor="middle" fill="#333">HT</text>
<text x="368.6" y="227.6" font-size="5.4" text-anchor="middle" fill="#333">HUXU</text>
<text x="384" y="227.6" font-size="5.4" text-anchor="middle" fill="#333">HX</text>
<text x="399.6" y="227.6" font-size="5.4" text-anchor="middle" fill="#333">JH</text>
<text x="415.45" y="227.6" font-size="5.4" text-anchor="middle" fill="#333">ND</text>
<text x="431.45" y="227.6" font-size="5.4" text-anchor="middle" fill="#333">RIR</text>
<text x="451" y="227.6" font-size="5.4" text-anchor="middle" fill="#333">RJF</text>
<text x="470.65" y="227.6" font-size="5.4" text-anchor="middle" fill="#333">WC</text>
<text x="486.6" y="227.6" font-size="5.4" text-anchor="middle" fill="#333">WH</text>
<text x="502.3" y="227.6" font-size="5.4" text-anchor="middle" fill="#333">WLH</text>
<text x="518.05" y="227.6" font-size="5.4" text-anchor="middle" fill="#333">YAO</text>
<text x="533.65" y="227.6" font-size="5.4" text-anchor="middle" fill="#333">YF</text>
<text x="2.2" y="256.4" font-size="16.4" fill="#111">B</text>
<rect x="30" y="298.4" width="33.85" height="11.1" fill="#ee88c0"/>
<rect x="63.8" y="298.4" width="32.95" height="11.1" fill="#cb9ecb"/>
<rect x="96.7" y="298.4" width="33.85" height="11.1" fill="#8babde"/>
<rect x="130.5" y="298.4" width="33.15" height="11.1" fill="#e6bd7a"/>
<rect x="163.6" y="298.4" width="30.65" height="11.1" fill="#f6e370"/>
<rect x="194.2" y="298.4" width="33.15" height="11.1" fill="#f6bcb0"/>
<rect x="227.3" y="298.4" width="33.25" height="11.1" fill="#f0aabb"/>
<rect x="260.5" y="298.4" width="30.05" height="11.1" fill="#f5c8a2"/>
<rect x="290.5" y="298.4" width="33.55" height="11.1" fill="#f3eeb2"/>
<rect x="324" y="298.4" width="33.55" height="11.1" fill="#e0a078"/>
<rect x="357.5" y="298.4" width="3.55" height="11.1" fill="#f0c585"/>
<rect x="361" y="298.4" width="33.05" height="11.1" fill="#f8cce0"/>
<rect x="394" y="298.4" width="20.25" height="11.1" fill="#f4c068"/>
<rect x="414.2" y="298.4" width="33.45" height="11.1" fill="#e09ac4"/>
<rect x="447.6" y="298.4" width="13.45" height="11.1" fill="#f4c068"/>
<rect x="461" y="298.4" width="33.05" height="11.1" fill="#d0aeda"/>
<rect x="494" y="298.4" width="50.55" height="11.1" fill="#e46c88"/>
<path d="M60.71 274.5 V245.8 Q60.71 244.2 62.31 244.2 H211.56 Q213.16 244.2 213.16 245.8 V247.5 M119.77 244.2 V274.5 M49.67 281.3 V276.1 Q49.67 274.5 51.27 274.5 H70.16 Q71.76 274.5 71.76 276.1 V277.5 M42.67 284.4 V282.9 Q42.67 281.3 44.27 281.3 H55.06 Q56.66 281.3 56.66 282.9 V291.6 M38.7 287.6 V286 Q38.7 284.4 40.3 284.4 H45.04 Q46.64 284.4 46.64 286 V295.2 M35.78 291.6 V289.2 Q35.78 287.6 37.38 287.6 H40.03 Q41.63 287.6 41.63 289.2 V298.5 M33.27 295.2 V293.2 Q33.27 291.6 34.87 291.6 H36.68 Q38.28 291.6 38.28 293.2 V298.5 M31.6 298.5 V296.8 Q31.6 295.2 33.2 295.2 H33.34 Q34.94 295.2 34.94 296.8 V298.5 M44.97 298.5 V296.8 Q44.97 295.2 46.57 295.2 H46.71 Q48.31 295.2 48.31 296.8 V298.5 M53.32 295.2 V293.2 Q53.32 291.6 54.92 291.6 H58.41 Q60.01 291.6 60.01 293.2 V295.2 M51.65 298.5 V296.8 Q51.65 295.2 53.25 295.2 H53.39 Q54.99 295.2 54.99 296.8 V298.5 M58.34 298.5 V296.8 Q58.34 295.2 59.94 295.2 H60.08 Q61.68 295.2 61.68 296.8 V298.5 M66.69 295.2 V279.1 Q66.69 277.5 68.29 277.5 H75.22 Q76.82 277.5 76.82 279.1 V281.5 M65.02 298.5 V296.8 Q65.02 295.2 66.62 295.2 H66.76 Q68.36 295.2 68.36 296.8 V298.5 M71.7 298.5 V283.1 Q71.7 281.5 73.3 281.5 H80.34 Q81.94 281.5 81.94 283.1 V284.7 M76.72 295.2 V286.3 Q76.72 284.7 78.32 284.7 H85.56 Q87.16 284.7 87.16 286.3 V287.6 M75.05 298.5 V296.8 Q75.05 295.2 76.65 295.2 H76.79 Q78.39 295.2 78.39 296.8 V298.5 M83.4 295.2 V289.2 Q83.4 287.6 85 287.6 H89.32 Q90.92 287.6 90.92 289.2 V291.6 M81.73 298.5 V296.8 Q81.73 295.2 83.33 295.2 H83.47 Q85.07 295.2 85.07 296.8 V298.5 M88.41 298.5 V293.2 Q88.41 291.6 90.01 291.6 H91.83 Q93.43 291.6 93.43 293.2 V295.2 M91.76 298.5 V296.8 Q91.76 295.2 93.36 295.2 H93.5 Q95.1 295.2 95.1 296.8 V298.5 M115.2 277.8 V276.1 Q115.2 274.5 116.8 274.5 H122.74 Q124.34 274.5 124.34 276.1 V291.6 M111.91 281.5 V279.4 Q111.91 277.8 113.51 277.8 H116.89 Q118.49 277.8 118.49 279.4 V298.5 M108.67 285.1 V283.1 Q108.67 281.5 110.27 281.5 H113.55 Q115.15 281.5 115.15 283.1 V298.5 M105.54 288 V286.7 Q105.54 285.1 107.14 285.1 H110.21 Q111.81 285.1 111.81 286.7 V298.5 M102.62 291.6 V289.6 Q102.62 288 104.22 288 H106.87 Q108.47 288 108.47 289.6 V298.5 M100.11 295.2 V293.2 Q100.11 291.6 101.71 291.6 H103.52 Q105.12 291.6 105.12 293.2 V298.5 M98.44 298.5 V296.8 Q98.44 295.2 100.04 295.2 H100.18 Q101.78 295.2 101.78 296.8 V298.5 M121.83 298.5 V293.2 Q121.83 291.6 123.43 291.6 H125.25 Q126.85 291.6 126.85 293.2 V295.2 M125.18 298.5 V296.8 Q125.18 295.2 126.78 295.2 H126.92 Q128.52 295.2 128.52 296.8 V298.5 M149.41 284.2 V249.1 Q149.41 247.5 151.01 247.5 H275.32 Q276.92 247.5 276.92 249.1 V250.9 M141.89 287.6 V285.8 Q141.89 284.2 143.49 284.2 H155.33 Q156.93 284.2 156.93 285.8 V291.3 M136.87 291.3 V289.2 Q136.87 287.6 138.47 287.6 H145.3 Q146.9 287.6 146.9 289.2 V295.2 M133.53 295.2 V292.9 Q133.53 291.3 135.13 291.3 H138.62 Q140.22 291.3 140.22 292.9 V295.2 M131.86 298.5 V296.8 Q131.86 295.2 133.46 295.2 H133.6 Q135.2 295.2 135.2 296.8 V298.5 M138.54 298.5 V296.8 Q138.54 295.2 140.14 295.2 H140.29 Q141.89 295.2 141.89 296.8 V298.5 M145.23 298.5 V296.8 Q145.23 295.2 146.83 295.2 H146.97 Q148.57 295.2 148.57 296.8 V298.5 M153.58 295.2 V292.9 Q153.58 291.3 155.18 291.3 H158.67 Q160.27 291.3 160.27 292.9 V295.2 M151.91 298.5 V296.8 Q151.91 295.2 153.51 295.2 H153.65 Q155.25 295.2 155.25 296.8 V298.5 M158.6 298.5 V296.8 Q158.6 295.2 160.2 295.2 H160.34 Q161.94 295.2 161.94 296.8 V298.5 M180.74 284.2 V252.5 Q180.74 250.9 182.34 250.9 H371.5 Q373.1 250.9 373.1 252.5 V254.2 M173.63 287.6 V285.8 Q173.63 284.2 175.23 284.2 H186.24 Q187.84 284.2 187.84 285.8 V291.3 M169.46 291.3 V289.2 Q169.46 287.6 171.06 287.6 H176.21 Q177.81 287.6 177.81 289.2 V291.3 M166.95 295.2 V292.9 Q166.95 291.3 168.55 291.3 H170.36 Q171.96 291.3 171.96 292.9 V298.5 M165.28 298.5 V296.8 Q165.28 295.2 166.88 295.2 H167.02 Q168.62 295.2 168.62 296.8 V298.5 M175.31 298.5 V292.9 Q175.31 291.3 176.91 291.3 H178.72 Q180.32 291.3 180.32 292.9 V295.2 M178.65 298.5 V296.8 Q178.65 295.2 180.25 295.2 H180.39 Q181.99 295.2 181.99 296.8 V298.5 M185.33 298.5 V292.9 Q185.33 291.3 186.93 291.3 H188.75 Q190.34 291.3 190.34 292.9 V295.2 M188.67 298.5 V296.8 Q188.67 295.2 190.27 295.2 H190.42 Q192.02 295.2 192.02 296.8 V298.5 M322.74 264.4 V255.8 Q322.74 254.2 324.34 254.2 H421.86 Q423.46 254.2 423.46 255.8 V257.6 M286.37 267.8 V266 Q286.37 264.4 287.97 264.4 H357.52 Q359.12 264.4 359.12 266 V298.5 M251.14 271.1 V269.4 Q251.14 267.8 252.74 267.8 H320 Q321.6 267.8 321.6 269.4 V274 M229.64 274.4 V272.7 Q229.64 271.1 231.24 271.1 H271.04 Q272.64 271.1 272.64 272.7 V284.2 M220.48 278 V276 Q220.48 274.4 222.08 274.4 H237.2 Q238.8 274.4 238.8 276 V284.4 M215.51 281.3 V279.6 Q215.51 278 217.11 278 H223.84 Q225.44 278 225.44 279.6 V298.5 M208.93 284.5 V282.9 Q208.93 281.3 210.53 281.3 H220.49 Q222.09 281.3 222.09 282.9 V298.5 M203.3 287.5 V286.1 Q203.3 284.5 204.9 284.5 H212.97 Q214.57 284.5 214.57 286.1 V291.5 M199.54 291.5 V289.1 Q199.54 287.5 201.14 287.5 H205.46 Q207.06 287.5 207.06 289.1 V295.2 M197.03 295.2 V293.1 Q197.03 291.5 198.63 291.5 H200.44 Q202.04 291.5 202.04 293.1 V298.5 M195.36 298.5 V296.8 Q195.36 295.2 196.96 295.2 H197.1 Q198.7 295.2 198.7 296.8 V298.5 M205.38 298.5 V296.8 Q205.38 295.2 206.98 295.2 H207.13 Q208.73 295.2 208.73 296.8 V298.5 M212.07 298.5 V293.1 Q212.07 291.5 213.67 291.5 H215.48 Q217.08 291.5 217.08 293.1 V295.2 M215.41 298.5 V296.8 Q215.41 295.2 217.01 295.2 H217.15 Q218.75 295.2 218.75 296.8 V298.5 M230.45 295.2 V286 Q230.45 284.4 232.05 284.4 H245.56 Q247.16 284.4 247.16 286 V287.6 M228.78 298.5 V296.8 Q228.78 295.2 230.38 295.2 H230.52 Q232.12 295.2 232.12 296.8 V298.5 M240.47 291.6 V289.2 Q240.47 287.6 242.07 287.6 H252.24 Q253.84 287.6 253.84 289.2 V291.6 M237.13 295.2 V293.2 Q237.13 291.6 238.73 291.6 H242.22 Q243.82 291.6 243.82 293.2 V295.2 M235.46 298.5 V296.8 Q235.46 295.2 237.06 295.2 H237.2 Q238.8 295.2 238.8 296.8 V298.5 M242.15 298.5 V296.8 Q242.15 295.2 243.75 295.2 H243.89 Q245.49 295.2 245.49 296.8 V298.5 M250.5 295.2 V293.2 Q250.5 291.6 252.1 291.6 H255.59 Q257.19 291.6 257.19 293.2 V295.2 M248.83 298.5 V296.8 Q248.83 295.2 250.43 295.2 H250.57 Q252.17 295.2 252.17 296.8 V298.5 M255.51 298.5 V296.8 Q255.51 295.2 257.11 295.2 H257.26 Q258.86 295.2 258.86 296.8 V298.5 M266.38 291.1 V285.8 Q266.38 284.2 267.98 284.2 H277.31 Q278.91 284.2 278.91 285.8 V287.5 M263.87 295.2 V292.7 Q263.87 291.1 265.47 291.1 H267.28 Q268.88 291.1 268.88 292.7 V298.5 M262.2 298.5 V296.8 Q262.2 295.2 263.8 295.2 H263.94 Q265.54 295.2 265.54 296.8 V298.5 M273.89 295.2 V289.1 Q273.89 287.5 275.5 287.5 H282.32 Q283.92 287.5 283.92 289.1 V291.1 M272.22 298.5 V296.8 Q272.22 295.2 273.82 295.2 H273.97 Q275.57 295.2 275.57 296.8 V298.5 M280.58 295.2 V292.7 Q280.58 291.1 282.18 291.1 H285.66 Q287.26 291.1 287.26 292.7 V295.2 M278.91 298.5 V296.8 Q278.91 295.2 280.51 295.2 H280.65 Q282.25 295.2 282.25 296.8 V298.5 M285.59 298.5 V296.8 Q285.59 295.2 287.19 295.2 H287.33 Q288.93 295.2 288.93 296.8 V298.5 M310.34 281.3 V275.6 Q310.34 274 311.94 274 H331.25 Q332.85 274 332.85 275.6 V278 M303.35 284.5 V282.9 Q303.35 281.3 304.95 281.3 H315.74 Q317.34 281.3 317.34 282.9 V291.5 M299.38 287.8 V286.1 Q299.38 284.5 300.98 284.5 H305.72 Q307.32 284.5 307.32 286.1 V295.2 M296.45 291.5 V289.4 Q296.45 287.8 298.05 287.8 H300.7 Q302.3 287.8 302.3 289.4 V298.5 M293.95 295.2 V293.1 Q293.95 291.5 295.55 291.5 H297.36 Q298.96 291.5 298.96 293.1 V298.5 M292.28 298.5 V296.8 Q292.28 295.2 293.88 295.2 H294.02 Q295.62 295.2 295.62 296.8 V298.5 M305.64 298.5 V296.8 Q305.64 295.2 307.24 295.2 H307.39 Q308.99 295.2 308.99 296.8 V298.5 M314 295.2 V293.1 Q314 291.5 315.6 291.5 H319.08 Q320.68 291.5 320.68 293.1 V295.2 M312.33 298.5 V296.8 Q312.33 295.2 313.93 295.2 H314.07 Q315.67 295.2 315.67 296.8 V298.5 M319.01 298.5 V296.8 Q319.01 295.2 320.61 295.2 H320.75 Q322.35 295.2 322.35 296.8 V298.5 M327.37 295.2 V279.6 Q327.37 278 328.97 278 H336.73 Q338.33 278 338.33 279.6 V281.2 M325.7 298.5 V296.8 Q325.7 295.2 327.3 295.2 H327.44 Q329.04 295.2 329.04 296.8 V298.5 M332.38 298.5 V282.8 Q332.38 281.2 333.98 281.2 H342.69 Q344.29 281.2 344.29 282.8 V284.4 M339.9 291.4 V286 Q339.9 284.4 341.5 284.4 H347.07 Q348.67 284.4 348.67 286 V287.9 M337.39 295.2 V293 Q337.39 291.4 338.99 291.4 H340.81 Q342.41 291.4 342.41 293 V298.5 M335.72 298.5 V296.8 Q335.72 295.2 337.32 295.2 H337.46 Q339.06 295.2 339.06 296.8 V298.5 M345.75 298.5 V289.5 Q345.75 287.9 347.35 287.9 H350 Q351.6 287.9 351.6 289.5 V291.4 M349.09 298.5 V293 Q349.09 291.4 350.69 291.4 H352.5 Q354.1 291.4 354.1 293 V295.2 M352.43 298.5 V296.8 Q352.43 295.2 354.03 295.2 H354.17 Q355.77 295.2 355.77 296.8 V298.5 M381.15 281.3 V259.2 Q381.15 257.6 382.75 257.6 H464.16 Q465.76 257.6 465.76 259.2 V261.3 M374.78 284.5 V282.9 Q374.78 281.3 376.38 281.3 H385.92 Q387.52 281.3 387.52 282.9 V291.5 M370.4 287.5 V286.1 Q370.4 284.5 372 284.5 H377.57 Q379.17 284.5 379.17 286.1 V298.5 M366.64 291.5 V289.1 Q366.64 287.5 368.24 287.5 H372.56 Q374.16 287.5 374.16 289.1 V295.2 M364.13 295.2 V293.1 Q364.13 291.5 365.73 291.5 H367.54 Q369.14 291.5 369.14 293.1 V298.5 M362.46 298.5 V296.8 Q362.46 295.2 364.06 295.2 H364.2 Q365.8 295.2 365.8 296.8 V298.5 M372.48 298.5 V296.8 Q372.48 295.2 374.08 295.2 H374.23 Q375.83 295.2 375.83 296.8 V298.5 M384.18 295.2 V293.1 Q384.18 291.5 385.78 291.5 H389.26 Q390.87 291.5 390.87 293.1 V295.2 M382.51 298.5 V296.8 Q382.51 295.2 384.11 295.2 H384.25 Q385.85 295.2 385.85 296.8 V298.5 M389.19 298.5 V296.8 Q389.19 295.2 390.79 295.2 H390.94 Q392.54 295.2 392.54 296.8 V298.5 M436.32 274.4 V262.9 Q436.32 261.3 437.92 261.3 H493.6 Q495.2 261.3 495.2 262.9 V264.1 M423.5 277.2 V276 Q423.5 274.4 425.1 274.4 H447.54 Q449.14 274.4 449.14 276 V284 M414.57 281.3 V278.8 Q414.57 277.2 416.17 277.2 H430.83 Q432.43 277.2 432.43 278.8 V284 M408.2 284.5 V282.9 Q408.2 281.3 409.8 281.3 H419.34 Q420.94 281.3 420.94 282.9 V291.5 M403.82 287.5 V286.1 Q403.82 284.5 405.42 284.5 H410.99 Q412.59 284.5 412.59 286.1 V298.5 M400.06 291.5 V289.1 Q400.06 287.5 401.66 287.5 H405.98 Q407.58 287.5 407.58 289.1 V295.2 M397.55 295.2 V293.1 Q397.55 291.5 399.15 291.5 H400.96 Q402.56 291.5 402.56 293.1 V298.5 M395.88 298.5 V296.8 Q395.88 295.2 397.48 295.2 H397.62 Q399.22 295.2 399.22 296.8 V298.5 M405.9 298.5 V296.8 Q405.9 295.2 407.5 295.2 H407.65 Q409.25 295.2 409.25 296.8 V298.5 M417.6 295.2 V293.1 Q417.6 291.5 419.2 291.5 H422.69 Q424.29 291.5 424.29 293.1 V295.2 M415.93 298.5 V296.8 Q415.93 295.2 417.53 295.2 H417.67 Q419.27 295.2 419.27 296.8 V298.5 M422.61 298.5 V296.8 Q422.61 295.2 424.21 295.2 H424.36 Q425.96 295.2 425.96 296.8 V298.5 M429.3 298.5 V285.6 Q429.3 284 430.9 284 H433.96 Q435.56 284 435.56 285.6 V287.6 M432.64 298.5 V289.2 Q432.64 287.6 434.24 287.6 H436.89 Q438.49 287.6 438.49 289.2 V291.6 M435.98 298.5 V293.2 Q435.98 291.6 437.58 291.6 H439.39 Q441 291.6 441 293.2 V295.2 M439.32 298.5 V296.8 Q439.32 295.2 440.92 295.2 H441.07 Q442.67 295.2 442.67 296.8 V298.5 M446.01 298.5 V285.6 Q446.01 284 447.61 284 H450.67 Q452.27 284 452.27 285.6 V287.6 M449.35 298.5 V289.2 Q449.35 287.6 450.95 287.6 H453.6 Q455.2 287.6 455.2 289.2 V291.6 M452.69 298.5 V293.2 Q452.69 291.6 454.29 291.6 H456.11 Q457.71 291.6 457.71 293.2 V295.2 M456.03 298.5 V296.8 Q456.03 295.2 457.63 295.2 H457.78 Q459.38 295.2 459.38 296.8 V298.5 M487.84 277.6 V265.7 Q487.84 264.1 489.44 264.1 H500.97 Q502.57 264.1 502.57 265.7 V267.6 M482.87 281.3 V279.2 Q482.87 277.6 484.47 277.6 H491.2 Q492.8 277.6 492.8 279.2 V298.5 M476.29 284.5 V282.9 Q476.29 281.3 477.89 281.3 H487.85 Q489.45 281.3 489.45 282.9 V298.5 M470.66 287.5 V286.1 Q470.66 284.5 472.26 284.5 H480.33 Q481.93 284.5 481.93 286.1 V291.5 M466.9 291.5 V289.1 Q466.9 287.5 468.5 287.5 H472.81 Q474.42 287.5 474.42 289.1 V295.2 M464.39 295.2 V293.1 Q464.39 291.5 465.99 291.5 H467.8 Q469.4 291.5 469.4 293.1 V298.5 M462.72 298.5 V296.8 Q462.72 295.2 464.32 295.2 H464.46 Q466.06 295.2 466.06 296.8 V298.5 M472.74 298.5 V296.8 Q472.74 295.2 474.34 295.2 H474.49 Q476.09 295.2 476.09 296.8 V298.5 M479.43 298.5 V293.1 Q479.43 291.5 481.03 291.5 H482.84 Q484.44 291.5 484.44 293.1 V295.2 M482.77 298.5 V296.8 Q482.77 295.2 484.37 295.2 H484.51 Q486.11 295.2 486.11 296.8 V298.5 M497.81 295.2 V269.2 Q497.81 267.6 499.41 267.6 H505.73 Q507.33 267.6 507.33 269.2 V271.4 M496.14 298.5 V296.8 Q496.14 295.2 497.74 295.2 H497.88 Q499.48 295.2 499.48 296.8 V298.5 M502.82 298.5 V273 Q502.82 271.4 504.42 271.4 H510.23 Q511.83 271.4 511.83 273 V274.4 M506.16 298.5 V276 Q506.16 274.4 507.76 274.4 H515.9 Q517.5 274.4 517.5 276 V277.7 M511.18 295.2 V279.3 Q511.18 277.7 512.78 277.7 H522.21 Q523.81 277.7 523.81 279.3 V281.1 M509.51 298.5 V296.8 Q509.51 295.2 511.11 295.2 H511.25 Q512.85 295.2 512.85 296.8 V298.5 M517.86 295.2 V282.7 Q517.86 281.1 519.46 281.1 H528.17 Q529.77 281.1 529.77 282.7 V284.6 M516.19 298.5 V296.8 Q516.19 295.2 517.79 295.2 H517.93 Q519.53 295.2 519.53 296.8 V298.5 M524.55 295.2 V286.2 Q524.55 284.6 526.15 284.6 H533.39 Q534.99 284.6 534.99 286.2 V288 M522.87 298.5 V296.8 Q522.87 295.2 524.47 295.2 H524.62 Q526.22 295.2 526.22 296.8 V298.5 M531.23 295.2 V289.6 Q531.23 288 532.83 288 H537.15 Q538.75 288 538.75 289.6 V291.5 M529.56 298.5 V296.8 Q529.56 295.2 531.16 295.2 H531.3 Q532.9 295.2 532.9 296.8 V298.5 M536.24 298.5 V293.1 Q536.24 291.5 537.84 291.5 H539.66 Q541.26 291.5 541.26 293.1 V295.2 M539.58 298.5 V296.8 Q539.58 295.2 541.18 295.2 H541.33 Q542.93 295.2 542.93 296.8 V298.5 M136.94 244.2 V241" fill="none" stroke="#1e1e1e" stroke-width="1.15"/>
<path d="M31.6 299.6 V305.8 M34.94 299.6 V305.8 M38.28 299.6 V305.8 M41.63 299.6 V305.8 M44.97 299.6 V305.8 M48.31 299.6 V305.8 M51.65 299.6 V305.8 M54.99 299.6 V305.8 M58.34 299.6 V305.8 M61.68 299.6 V305.8 M65.02 299.6 V305.8 M68.36 299.6 V305.8 M71.7 299.6 V305.8 M75.05 299.6 V305.8 M78.39 299.6 V305.8 M81.73 299.6 V305.8 M85.07 299.6 V305.8 M88.41 299.6 V305.8 M91.76 299.6 V305.8 M95.1 299.6 V305.8 M98.44 299.6 V305.8 M101.78 299.6 V305.8 M105.12 299.6 V305.8 M108.47 299.6 V305.8 M111.81 299.6 V305.8 M115.15 299.6 V305.8 M118.49 299.6 V305.8 M121.83 299.6 V305.8 M125.18 299.6 V305.8 M128.52 299.6 V305.8 M131.86 299.6 V305.8 M135.2 299.6 V305.8 M138.54 299.6 V305.8 M141.89 299.6 V305.8 M145.23 299.6 V305.8 M148.57 299.6 V305.8 M151.91 299.6 V305.8 M155.25 299.6 V305.8 M158.6 299.6 V305.8 M161.94 299.6 V305.8 M165.28 299.6 V305.8 M168.62 299.6 V305.8 M171.96 299.6 V305.8 M175.31 299.6 V305.8 M178.65 299.6 V305.8 M181.99 299.6 V305.8 M185.33 299.6 V305.8 M188.67 299.6 V305.8 M192.02 299.6 V305.8 M195.36 299.6 V305.8 M198.7 299.6 V305.8 M202.04 299.6 V305.8 M205.38 299.6 V305.8 M208.73 299.6 V305.8 M212.07 299.6 V305.8 M215.41 299.6 V305.8 M218.75 299.6 V305.8 M222.09 299.6 V305.8 M225.44 299.6 V305.8 M228.78 299.6 V305.8 M232.12 299.6 V305.8 M235.46 299.6 V305.8 M238.8 299.6 V305.8 M242.15 299.6 V305.8 M245.49 299.6 V305.8 M248.83 299.6 V305.8 M252.17 299.6 V305.8 M255.51 299.6 V305.8 M258.86 299.6 V305.8 M262.2 299.6 V305.8 M265.54 299.6 V305.8 M268.88 299.6 V305.8 M272.22 299.6 V305.8 M275.57 299.6 V305.8 M278.91 299.6 V305.8 M282.25 299.6 V305.8 M285.59 299.6 V305.8 M288.93 299.6 V305.8 M292.28 299.6 V305.8 M295.62 299.6 V305.8 M298.96 299.6 V305.8 M302.3 299.6 V305.8 M305.64 299.6 V305.8 M308.99 299.6 V305.8 M312.33 299.6 V305.8 M315.67 299.6 V305.8 M319.01 299.6 V305.8 M322.35 299.6 V305.8 M325.7 299.6 V305.8 M329.04 299.6 V305.8 M332.38 299.6 V305.8 M335.72 299.6 V305.8 M339.06 299.6 V305.8 M342.41 299.6 V305.8 M345.75 299.6 V305.8 M349.09 299.6 V305.8 M352.43 299.6 V305.8 M355.77 299.6 V305.8 M359.12 299.6 V305.8 M362.46 299.6 V305.8 M365.8 299.6 V305.8 M369.14 299.6 V305.8 M372.48 299.6 V305.8 M375.83 299.6 V305.8 M379.17 299.6 V305.8 M382.51 299.6 V305.8 M385.85 299.6 V305.8 M389.19 299.6 V305.8 M392.54 299.6 V305.8 M395.88 299.6 V305.8 M399.22 299.6 V305.8 M402.56 299.6 V305.8 M405.9 299.6 V305.8 M409.25 299.6 V305.8 M412.59 299.6 V305.8 M415.93 299.6 V305.8 M419.27 299.6 V305.8 M422.61 299.6 V305.8 M425.96 299.6 V305.8 M429.3 299.6 V305.8 M432.64 299.6 V305.8 M435.98 299.6 V305.8 M439.32 299.6 V305.8 M442.67 299.6 V305.8 M446.01 299.6 V305.8 M449.35 299.6 V305.8 M452.69 299.6 V305.8 M456.03 299.6 V305.8 M459.38 299.6 V305.8 M462.72 299.6 V305.8 M466.06 299.6 V305.8 M469.4 299.6 V305.8 M472.74 299.6 V305.8 M476.09 299.6 V305.8 M479.43 299.6 V305.8 M482.77 299.6 V305.8 M486.11 299.6 V305.8 M489.45 299.6 V305.8 M492.8 299.6 V305.8 M496.14 299.6 V305.8 M499.48 299.6 V305.8 M502.82 299.6 V305.8 M506.16 299.6 V305.8 M509.51 299.6 V305.8 M512.85 299.6 V305.8 M516.19 299.6 V305.8 M519.53 299.6 V305.8 M522.87 299.6 V305.8 M526.22 299.6 V305.8 M529.56 299.6 V305.8 M532.9 299.6 V305.8 M536.24 299.6 V305.8 M539.58 299.6 V305.8 M542.93 299.6 V305.8" stroke="#5a4040" stroke-opacity="0.24" stroke-width="1.2" stroke-dasharray="1 0.7"/>
<text x="42.7" y="327.1" font-size="9.4" text-anchor="middle" fill="#222">YF</text>
<text x="75.3" y="327.1" font-size="9.4" text-anchor="middle" fill="#222">RIR</text>
<text x="107.9" y="327.1" font-size="9.4" text-anchor="middle" fill="#222">WLH</text>
<text x="142.7" y="327.1" font-size="9.4" text-anchor="middle" fill="#222">JH</text>
<text x="178.2" y="327.1" font-size="9.4" text-anchor="middle" fill="#222">HUXU</text>
<text x="210.2" y="327.1" font-size="9.4" text-anchor="middle" fill="#222">HBM</text>
<text x="241.5" y="327.1" font-size="9.4" text-anchor="middle" fill="#222">GS</text>
<text x="270.6" y="327.1" font-size="9.4" text-anchor="middle" fill="#222">HL</text>
<text x="304.5" y="327.1" font-size="9.4" text-anchor="middle" fill="#222">ND</text>
<text x="338.2" y="327.1" font-size="9.4" text-anchor="middle" fill="#222">HT</text>
<text x="373.6" y="327.1" font-size="9.4" text-anchor="middle" fill="#222">WH</text>
<text x="402.7" y="327.1" font-size="9.4" text-anchor="middle" fill="#222">HX</text>
<text x="428.7" y="327.1" font-size="9.4" text-anchor="middle" fill="#222">YAO</text>
<text x="452.7" y="327.1" font-size="9.4" text-anchor="middle" fill="#222">HX</text>
<text x="476.2" y="327.1" font-size="9.4" text-anchor="middle" fill="#222">WC</text>
<text x="516.5" y="327.1" font-size="9.4" text-anchor="middle" fill="#222">RJF</text>
<text x="-0.2" y="357.4" font-size="16" fill="#111">D</text>
<path d="M54.4 362.9 L59.3 358.6 M54.4 362.9 L53.1 405 L50.8 455 L49.5 497.5 L79.5 503.5 M58.2 372.2 L65.9 367.8 M58.2 372.2 L56 414.1 L55.4 440 L54.9 481.7 Q56.5 489 62.6 493.7 M59.8 489.3 L62.6 485.5 M58.2 372.2 L88.8 396.8 M88.8 384.6 V396.8 M88.8 384.6 L165.5 378.2 M88.8 384.6 L151.8 391.3 M88.8 396.8 L206.4 402.4 M56 414.1 L67.5 410 M56 414.1 L59 422.3 M59 422.3 L68.8 418.5 M59 422.3 L59.3 472.9 L69.7 476.7 M59 422.3 L60.8 429.1 L62 426.9 M60.8 429.1 L64.2 466.4 L83.8 469.4 M64.2 466.4 L67.2 448.7 L78.2 439.6 M67.2 448.7 L74 457.6" fill="none" stroke="#1a1a1a" stroke-width="0.95" stroke-linejoin="round"/>
<path d="M72.2 442.5 L89.1 385.2 M127.5 381.5 L83.9 468.7 M63.5 499.9 L206 401.8" fill="none" stroke="#f05a28" stroke-width="0.95"/>
<circle cx="89.1" cy="385.6" r="1.2" fill="#e8321e"/>
<circle cx="84.2" cy="468.3" r="1.2" fill="#e8321e"/>
<circle cx="205.6" cy="402.1" r="1.2" fill="#e8321e"/>
<circle cx="64.2" cy="500.2" r="1.2" fill="#e8321e"/>
<text x="63.8" y="361.9" font-size="8.6" fill="#222">WC</text>
<text x="70.0" y="371.0" font-size="8.6" fill="#222">HUXU</text>
<text x="169.6" y="381.5" font-size="8.6" fill="#222">RIR</text>
<text x="156.4" y="394.1" font-size="8.6" fill="#222">YF</text>
<text x="210.0" y="405.2" font-size="8.6" fill="#222">WLH</text>
<text x="72.2" y="413.2" font-size="8.6" fill="#222">WH</text>
<text x="73.2" y="421.9" font-size="8.6" fill="#222">HT</text>
<text x="65.9" y="430.6" font-size="8.6" fill="#222">HL</text>
<text x="81.8" y="443.2" font-size="8.6" fill="#222">GS</text>
<text x="77.8" y="460.6" font-size="8.6" fill="#222">HBM</text>
<text x="87.4" y="473.0" font-size="8.6" fill="#222">JH</text>
<text x="73.8" y="480.1" font-size="8.6" fill="#222">ND</text>
<text x="66.6" y="488.8" font-size="8.6" fill="#222">HX</text>
<text x="67.4" y="497.0" font-size="8.6" fill="#222">YAO</text>
<text x="83.6" y="506.4" font-size="8.6" fill="#222">RJF</text>
<text x="27.1" y="431" font-size="4.9" fill="#333">Migration</text>
<text x="27.1" y="435.6" font-size="4.9" fill="#333">weight</text>
<defs><linearGradient id="mg" x1="0" y1="0" x2="0" y2="1"><stop offset="0" stop-color="#e8221c"/><stop offset="0.5" stop-color="#f0801c"/><stop offset="1" stop-color="#f7d518"/></linearGradient></defs>
<rect x="29.8" y="438.6" width="8.2" height="31.6" fill="url(#mg)"/>
<text x="61.6" y="440.9" font-size="5.4" fill="#222">0.5</text>
<text x="61.6" y="471.7" font-size="5.4" fill="#222">0</text>
<text x="49.8" y="502.1" font-size="5.6" fill="#222">10 s.e.</text>
<path d="M49.5 509.7 H214.8" stroke="#222" stroke-width="1"/>
<line x1="49.5" x2="49.5" y1="509.7" y2="514.5" stroke="#222" stroke-width="0.9"/>
<text x="48.6" y="527.6" font-size="8" text-anchor="middle" fill="#222">0.00</text>
<line x1="77.05" x2="77.05" y1="509.7" y2="514.5" stroke="#222" stroke-width="0.9"/>
<text x="76.15" y="527.6" font-size="8" text-anchor="middle" fill="#222">0.02</text>
<line x1="104.6" x2="104.6" y1="509.7" y2="514.5" stroke="#222" stroke-width="0.9"/>
<text x="103.7" y="527.6" font-size="8" text-anchor="middle" fill="#222">0.04</text>
<line x1="132.15" x2="132.15" y1="509.7" y2="514.5" stroke="#222" stroke-width="0.9"/>
<text x="131.25" y="527.6" font-size="8" text-anchor="middle" fill="#222">0.06</text>
<line x1="159.7" x2="159.7" y1="509.7" y2="514.5" stroke="#222" stroke-width="0.9"/>
<text x="158.8" y="527.6" font-size="8" text-anchor="middle" fill="#222">0.08</text>
<line x1="187.25" x2="187.25" y1="509.7" y2="514.5" stroke="#222" stroke-width="0.9"/>
<text x="186.35" y="527.6" font-size="8" text-anchor="middle" fill="#222">0.10</text>
<line x1="214.8" x2="214.8" y1="509.7" y2="514.5" stroke="#222" stroke-width="0.9"/>
<text x="213.9" y="527.6" font-size="8" text-anchor="middle" fill="#222">0.12</text>
<text x="133.6" y="547.3" font-size="8.2" text-anchor="middle" fill="#222">Drift parameter</text>
<text x="279.6" y="357.4" font-size="16" fill="#111">E</text>
<rect x="340" y="361.3" width="12.13" height="10.24" fill="#fdfbe6"/>
<rect x="340" y="371.48" width="12.13" height="10.24" fill="#3fa535"/>
<rect x="352.07" y="371.48" width="12.13" height="10.24" fill="#fdfbe3"/>
<rect x="340" y="381.66" width="12.13" height="10.24" fill="#f08a1e"/>
<rect x="352.07" y="381.66" width="12.13" height="10.24" fill="#f5dc2a"/>
<rect x="364.14" y="381.66" width="12.13" height="10.24" fill="#fdfbea"/>
<rect x="340" y="391.84" width="12.13" height="10.24" fill="#f3e78a"/>
<rect x="352.07" y="391.84" width="12.13" height="10.24" fill="#fbf8dc"/>
<rect x="364.14" y="391.84" width="12.13" height="10.24" fill="#9ccf8c"/>
<rect x="376.21" y="391.84" width="12.13" height="10.24" fill="#eef3ea"/>
<rect x="340" y="402.02" width="12.13" height="10.24" fill="#f2df35"/>
<rect x="352.07" y="402.02" width="12.13" height="10.24" fill="#f0f4ee"/>
<rect x="364.14" y="402.02" width="12.13" height="10.24" fill="#b8dcb0"/>
<rect x="376.21" y="402.02" width="12.13" height="10.24" fill="#f2df3a"/>
<rect x="388.28" y="402.02" width="12.13" height="10.24" fill="#f4f7f0"/>
<rect x="340" y="412.2" width="12.13" height="10.24" fill="#b5d9a8"/>
<rect x="352.07" y="412.2" width="12.13" height="10.24" fill="#86c47a"/>
<rect x="364.14" y="412.2" width="12.13" height="10.24" fill="#b8dcae"/>
<rect x="376.21" y="412.2" width="12.13" height="10.24" fill="#f3f6ee"/>
<rect x="388.28" y="412.2" width="12.13" height="10.24" fill="#dfe9da"/>
<rect x="400.35" y="412.2" width="12.13" height="10.24" fill="#f1f5ef"/>
<rect x="340" y="422.38" width="12.13" height="10.24" fill="#8cc67c"/>
<rect x="352.07" y="422.38" width="12.13" height="10.24" fill="#fffef8"/>
<rect x="364.14" y="422.38" width="12.13" height="10.24" fill="#f8f3c8"/>
<rect x="376.21" y="422.38" width="12.13" height="10.24" fill="#74be62"/>
<rect x="388.28" y="422.38" width="12.13" height="10.24" fill="#f8f0b8"/>
<rect x="400.35" y="422.38" width="12.13" height="10.24" fill="#f2dc30"/>
<rect x="412.42" y="422.38" width="12.13" height="10.24" fill="#fdfcee"/>
<rect x="340" y="432.56" width="12.13" height="10.24" fill="#1f4a9e"/>
<rect x="352.07" y="432.56" width="12.13" height="10.24" fill="#f5eca0"/>
<rect x="364.14" y="432.56" width="12.13" height="10.24" fill="#5ab548"/>
<rect x="376.21" y="432.56" width="12.13" height="10.24" fill="#fcf8e0"/>
<rect x="388.28" y="432.56" width="12.13" height="10.24" fill="#f9f2c8"/>
<rect x="400.35" y="432.56" width="12.13" height="10.24" fill="#e0eadc"/>
<rect x="412.42" y="432.56" width="12.13" height="10.24" fill="#fcf9e5"/>
<rect x="424.49" y="432.56" width="12.13" height="10.24" fill="#f1f5ef"/>
<rect x="340" y="442.74" width="12.13" height="10.24" fill="#f5e020"/>
<rect x="352.07" y="442.74" width="12.13" height="10.24" fill="#f8f0c0"/>
<rect x="364.14" y="442.74" width="12.13" height="10.24" fill="#1f4fa3"/>
<rect x="376.21" y="442.74" width="12.13" height="10.24" fill="#faf3c8"/>
<rect x="388.28" y="442.74" width="12.13" height="10.24" fill="#66b955"/>
<rect x="400.35" y="442.74" width="12.13" height="10.24" fill="#fcf7dc"/>
<rect x="412.42" y="442.74" width="12.13" height="10.24" fill="#66b955"/>
<rect x="424.49" y="442.74" width="12.13" height="10.24" fill="#eef3ea"/>
<rect x="436.56" y="442.74" width="12.13" height="10.24" fill="#f3f6f0"/>
<rect x="340" y="452.92" width="12.13" height="10.24" fill="#e8241e"/>
<rect x="352.07" y="452.92" width="12.13" height="10.24" fill="#a3d196"/>
<rect x="364.14" y="452.92" width="12.13" height="10.24" fill="#74be62"/>
<rect x="376.21" y="452.92" width="12.13" height="10.24" fill="#faf3cc"/>
<rect x="388.28" y="452.92" width="12.13" height="10.24" fill="#9fcf90"/>
<rect x="400.35" y="452.92" width="12.13" height="10.24" fill="#c5dfbc"/>
<rect x="412.42" y="452.92" width="12.13" height="10.24" fill="#6cbc5a"/>
<rect x="424.49" y="452.92" width="12.13" height="10.24" fill="#dce8d6"/>
<rect x="436.56" y="452.92" width="12.13" height="10.24" fill="#f08a1e"/>
<rect x="448.63" y="452.92" width="12.13" height="10.24" fill="#fdfcf0"/>
<rect x="340" y="463.1" width="12.13" height="10.24" fill="#acd59f"/>
<rect x="352.07" y="463.1" width="12.13" height="10.24" fill="#f3e47a"/>
<rect x="364.14" y="463.1" width="12.13" height="10.24" fill="#f3bb20"/>
<rect x="376.21" y="463.1" width="12.13" height="10.24" fill="#4cb041"/>
<rect x="388.28" y="463.1" width="12.13" height="10.24" fill="#4cb041"/>
<rect x="400.35" y="463.1" width="12.13" height="10.24" fill="#fcf6d8"/>
<rect x="412.42" y="463.1" width="12.13" height="10.24" fill="#a8d49a"/>
<rect x="424.49" y="463.1" width="12.13" height="10.24" fill="#f3e47a"/>
<rect x="436.56" y="463.1" width="12.13" height="10.24" fill="#f08a1e"/>
<rect x="448.63" y="463.1" width="12.13" height="10.24" fill="#1f4ba0"/>
<rect x="460.7" y="463.1" width="12.13" height="10.24" fill="#ffffff"/>
<rect x="340" y="473.28" width="12.13" height="10.24" fill="#1f55a5"/>
<rect x="352.07" y="473.28" width="12.13" height="10.24" fill="#f8eeb0"/>
<rect x="364.14" y="473.28" width="12.13" height="10.24" fill="#f5e8a0"/>
<rect x="376.21" y="473.28" width="12.13" height="10.24" fill="#e0ecdc"/>
<rect x="388.28" y="473.28" width="12.13" height="10.24" fill="#e0ecdc"/>
<rect x="400.35" y="473.28" width="12.13" height="10.24" fill="#77c068"/>
<rect x="412.42" y="473.28" width="12.13" height="10.24" fill="#f3e47a"/>
<rect x="424.49" y="473.28" width="12.13" height="10.24" fill="#faf3cc"/>
<rect x="436.56" y="473.28" width="12.13" height="10.24" fill="#dde9d8"/>
<rect x="448.63" y="473.28" width="12.13" height="10.24" fill="#5cb64b"/>
<rect x="460.7" y="473.28" width="12.13" height="10.24" fill="#fcf8e0"/>
<rect x="472.77" y="473.28" width="12.13" height="10.24" fill="#fefefa"/>
<rect x="340" y="483.46" width="12.13" height="10.24" fill="#5db64c"/>
<rect x="352.07" y="483.46" width="12.13" height="10.24" fill="#f4f7f0"/>
<rect x="364.14" y="483.46" width="12.13" height="10.24" fill="#fbf8e0"/>
<rect x="376.21" y="483.46" width="12.13" height="10.24" fill="#f8f0b8"/>
<rect x="388.28" y="483.46" width="12.13" height="10.24" fill="#f8eeb0"/>
<rect x="400.35" y="483.46" width="12.13" height="10.24" fill="#cfe4c8"/>
<rect x="412.42" y="483.46" width="12.13" height="10.24" fill="#f3dd30"/>
<rect x="424.49" y="483.46" width="12.13" height="10.24" fill="#f4f7f0"/>
<rect x="436.56" y="483.46" width="12.13" height="10.24" fill="#1e6fa0"/>
<rect x="448.63" y="483.46" width="12.13" height="10.24" fill="#b8dcb0"/>
<rect x="460.7" y="483.46" width="12.13" height="10.24" fill="#f0f5ee"/>
<rect x="472.77" y="483.46" width="12.13" height="10.24" fill="#f5e680"/>
<rect x="484.84" y="483.46" width="12.13" height="10.24" fill="#f0f5ee"/>
<rect x="340" y="493.64" width="12.13" height="10.24" fill="#b8dcac"/>
<rect x="352.07" y="493.64" width="12.13" height="10.24" fill="#a8d49a"/>
<rect x="364.14" y="493.64" width="12.13" height="10.24" fill="#fcf9e6"/>
<rect x="376.21" y="493.64" width="12.13" height="10.24" fill="#8cc87e"/>
<rect x="388.28" y="493.64" width="12.13" height="10.24" fill="#fbf6d8"/>
<rect x="400.35" y="493.64" width="12.13" height="10.24" fill="#f2dd3a"/>
<rect x="412.42" y="493.64" width="12.13" height="10.24" fill="#f5f7f2"/>
<rect x="424.49" y="493.64" width="12.13" height="10.24" fill="#fbf8e0"/>
<rect x="436.56" y="493.64" width="12.13" height="10.24" fill="#8cc87e"/>
<rect x="448.63" y="493.64" width="12.13" height="10.24" fill="#a3d196"/>
<rect x="460.7" y="493.64" width="12.13" height="10.24" fill="#8cc87e"/>
<rect x="472.77" y="493.64" width="12.13" height="10.24" fill="#f5e47a"/>
<rect x="484.84" y="493.64" width="12.13" height="10.24" fill="#f5e680"/>
<rect x="496.91" y="493.64" width="12.13" height="10.24" fill="#fefefa"/>
<rect x="340" y="503.82" width="12.13" height="10.24" fill="#a8d49c"/>
<rect x="352.07" y="503.82" width="12.13" height="10.24" fill="#9ecf8f"/>
<rect x="364.14" y="503.82" width="12.13" height="10.24" fill="#2ea24a"/>
<rect x="376.21" y="503.82" width="12.13" height="10.24" fill="#fcf5d0"/>
<rect x="388.28" y="503.82" width="12.13" height="10.24" fill="#f0f4ec"/>
<rect x="400.35" y="503.82" width="12.13" height="10.24" fill="#fcf5d6"/>
<rect x="412.42" y="503.82" width="12.13" height="10.24" fill="#b8dcae"/>
<rect x="424.49" y="503.82" width="12.13" height="10.24" fill="#f5cc30"/>
<rect x="436.56" y="503.82" width="12.13" height="10.24" fill="#a8d49a"/>
<rect x="448.63" y="503.82" width="12.13" height="10.24" fill="#f5df30"/>
<rect x="460.7" y="503.82" width="12.13" height="10.24" fill="#fbf6d8"/>
<rect x="472.77" y="503.82" width="12.13" height="10.24" fill="#fcf8e0"/>
<rect x="484.84" y="503.82" width="12.13" height="10.24" fill="#92ca84"/>
<rect x="496.91" y="503.82" width="12.13" height="10.24" fill="#f0f5ee"/>
<rect x="508.98" y="503.82" width="12.13" height="10.24" fill="#f0f5ee"/>
<text x="333.3" y="369.89" font-size="8.8" text-anchor="end" fill="#222">WLH</text>
<text x="333.3" y="380.07" font-size="8.8" text-anchor="end" fill="#222">GS</text>
<text x="333.3" y="390.25" font-size="8.8" text-anchor="end" fill="#222">HBM</text>
<text x="333.3" y="400.43" font-size="8.8" text-anchor="end" fill="#222">HL</text>
<text x="333.3" y="410.61" font-size="8.8" text-anchor="end" fill="#222">HT</text>
<text x="333.3" y="420.79" font-size="8.8" text-anchor="end" fill="#222">HUXU</text>
<text x="333.3" y="430.97" font-size="8.8" text-anchor="end" fill="#222">HX</text>
<text x="333.3" y="441.15" font-size="8.8" text-anchor="end" fill="#222">JH</text>
<text x="333.3" y="451.33" font-size="8.8" text-anchor="end" fill="#222">RIR</text>
<text x="333.3" y="461.51" font-size="8.8" text-anchor="end" fill="#222">ND</text>
<text x="333.3" y="471.69" font-size="8.8" text-anchor="end" fill="#222">RJF</text>
<text x="333.3" y="481.87" font-size="8.8" text-anchor="end" fill="#222">WC</text>
<text x="333.3" y="492.05" font-size="8.8" text-anchor="end" fill="#222">WH</text>
<text x="333.3" y="502.23" font-size="8.8" text-anchor="end" fill="#222">YAO</text>
<text x="333.3" y="512.41" font-size="8.8" text-anchor="end" fill="#222">YF</text>
<text transform="translate(349.04 520.2) rotate(-90)" font-size="8.6" text-anchor="end" fill="#222">WLH</text>
<text transform="translate(361.11 520.2) rotate(-90)" font-size="8.6" text-anchor="end" fill="#222">GS</text>
<text transform="translate(373.18 520.2) rotate(-90)" font-size="8.6" text-anchor="end" fill="#222">HBM</text>
<text transform="translate(385.25 520.2) rotate(-90)" font-size="8.6" text-anchor="end" fill="#222">HL</text>
<text transform="translate(397.31 520.2) rotate(-90)" font-size="8.6" text-anchor="end" fill="#222">HT</text>
<text transform="translate(409.39 520.2) rotate(-90)" font-size="8.6" text-anchor="end" fill="#222">HUXU</text>
<text transform="translate(421.46 520.2) rotate(-90)" font-size="8.6" text-anchor="end" fill="#222">HX</text>
<text transform="translate(433.53 520.2) rotate(-90)" font-size="8.6" text-anchor="end" fill="#222">JH</text>
<text transform="translate(445.6 520.2) rotate(-90)" font-size="8.6" text-anchor="end" fill="#222">RIR</text>
<text transform="translate(457.67 520.2) rotate(-90)" font-size="8.6" text-anchor="end" fill="#222">ND</text>
<text transform="translate(469.74 520.2) rotate(-90)" font-size="8.6" text-anchor="end" fill="#222">RJF</text>
<text transform="translate(481.81 520.2) rotate(-90)" font-size="8.6" text-anchor="end" fill="#222">WC</text>
<text transform="translate(493.88 520.2) rotate(-90)" font-size="8.6" text-anchor="end" fill="#222">WH</text>
<text transform="translate(505.94 520.2) rotate(-90)" font-size="8.6" text-anchor="end" fill="#222">YAO</text>
<text transform="translate(518.01 520.2) rotate(-90)" font-size="8.6" text-anchor="end" fill="#222">YF</text>
<defs><linearGradient id="hg" x1="0" y1="0" x2="0" y2="1"><stop offset="0" stop-color="#0a0f2a"/><stop offset="0.2" stop-color="#1d4aa0"/><stop offset="0.38" stop-color="#3ea63a"/><stop offset="0.5" stop-color="#ffffff"/><stop offset="0.62" stop-color="#f3e13a"/><stop offset="0.82" stop-color="#f3a51e"/><stop offset="1" stop-color="#e8201a"/></linearGradient></defs>
<rect x="476" y="376" width="10" height="62" fill="url(#hg)"/>
<text x="487.4" y="380.4" font-size="8" fill="#222">20 SE</text>
<text x="487.4" y="440.8" font-size="8" fill="#222">−20 SE</text></svg></body></html>
